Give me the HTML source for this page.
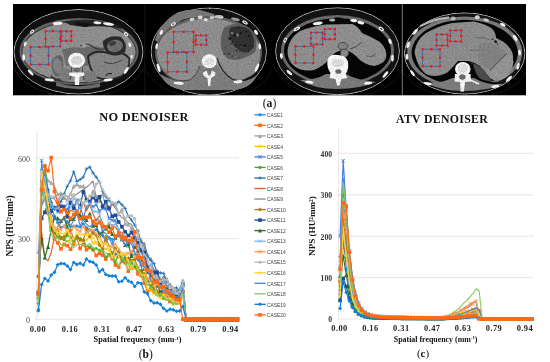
<!DOCTYPE html><html><head><meta charset="utf-8"><title>Figure</title><style>
html,body{margin:0;padding:0;background:#fff}
#fig{position:relative;width:550px;height:362px;overflow:hidden;background:#fff;font-family:"Liberation Serif",serif;color:#111}
.t{position:absolute;white-space:nowrap;line-height:1;transform:translate(-50%,-50%)}
.ttl{font-weight:bold;font-size:12.4px;letter-spacing:.3px;color:#111}
.xl{font-weight:bold;font-size:8.4px;letter-spacing:.45px;color:#222}
.yl{font-size:8px;color:#4a4a4a}
.ylc{font-size:7.6px;color:#333;font-weight:bold}
.ax{font-weight:bold;font-size:8.3px;color:#111}
.ay{font-weight:bold;font-size:9.3px;color:#111;transform:translate(-50%,-50%) rotate(-90deg)}
.cap{font-size:10px;color:#111}
.lg{font-family:"Liberation Sans",sans-serif;font-size:4.9px;color:#3c3c3c;transform:translate(0,-50%)}
sup{font-size:60%;vertical-align:baseline;position:relative;top:-0.45em;line-height:0}

</style></head><body><div id="fig">
<svg width="550" height="362" viewBox="0 0 550 362" style="position:absolute;left:0;top:0">
<defs><marker id="m0" markerUnits="userSpaceOnUse" markerWidth="6" markerHeight="6" viewBox="-3 -3 6 6" refX="0" refY="0" orient="0"><path d="M-2.0 0.0L0.0 -2.0L2.0 0.0L0.0 2.0Z" fill="#1f8fe5"/></marker><marker id="m1" markerUnits="userSpaceOnUse" markerWidth="6" markerHeight="6" viewBox="-3 -3 6 6" refX="0" refY="0" orient="0"><rect x="-1.8" y="-1.8" width="3.6" height="3.6" fill="#ff6a13"/></marker><marker id="m2" markerUnits="userSpaceOnUse" markerWidth="6" markerHeight="6" viewBox="-3 -3 6 6" refX="0" refY="0" orient="0"><path d="M-2.1 2.1L0.0 -2.1L2.1 2.1Z" fill="#a5a5a5"/></marker><marker id="m3" markerUnits="userSpaceOnUse" markerWidth="6" markerHeight="6" viewBox="-3 -3 6 6" refX="0" refY="0" orient="0"><path d="M-1.8 -1.8L1.8 1.8M-1.8 1.8L1.8 -1.8" stroke="#ffc000" stroke-width="0.7" fill="none"/></marker><marker id="m4" markerUnits="userSpaceOnUse" markerWidth="6" markerHeight="6" viewBox="-3 -3 6 6" refX="0" refY="0" orient="0"><path d="M-1.8 -1.8L1.8 1.8M-1.8 1.8L1.8 -1.8M0.0 -1.8L0.0 1.8" stroke="#3f7fe0" stroke-width="0.75" fill="none"/></marker><marker id="m5" markerUnits="userSpaceOnUse" markerWidth="6" markerHeight="6" viewBox="-3 -3 6 6" refX="0" refY="0" orient="0"><circle cx="0.0" cy="0.0" r="1.5" fill="#4aa832"/></marker><marker id="m6" markerUnits="userSpaceOnUse" markerWidth="6" markerHeight="6" viewBox="-3 -3 6 6" refX="0" refY="0" orient="0"><path d="M-1.9 0.0L1.9 0.0M0.0 -1.9L0.0 1.9" stroke="#2473b5" stroke-width="0.75" fill="none"/></marker><marker id="m9" markerUnits="userSpaceOnUse" markerWidth="6" markerHeight="6" viewBox="-3 -3 6 6" refX="0" refY="0" orient="0"><path d="M-2.0 0.0L0.0 -2.0L2.0 0.0L0.0 2.0Z" fill="#b07c00"/></marker><marker id="m10" markerUnits="userSpaceOnUse" markerWidth="6" markerHeight="6" viewBox="-3 -3 6 6" refX="0" refY="0" orient="0"><rect x="-1.8" y="-1.8" width="3.6" height="3.6" fill="#1f4a94"/></marker><marker id="m11" markerUnits="userSpaceOnUse" markerWidth="6" markerHeight="6" viewBox="-3 -3 6 6" refX="0" refY="0" orient="0"><path d="M-2.1 2.1L0.0 -2.1L2.1 2.1Z" fill="#2f6b2a"/></marker><marker id="m12" markerUnits="userSpaceOnUse" markerWidth="6" markerHeight="6" viewBox="-3 -3 6 6" refX="0" refY="0" orient="0"><path d="M-1.8 -1.8L1.8 1.8M-1.8 1.8L1.8 -1.8" stroke="#7db8ea" stroke-width="0.7" fill="none"/></marker><marker id="m13" markerUnits="userSpaceOnUse" markerWidth="6" markerHeight="6" viewBox="-3 -3 6 6" refX="0" refY="0" orient="0"><path d="M-1.8 -1.8L1.8 1.8M-1.8 1.8L1.8 -1.8M0.0 -1.8L0.0 1.8" stroke="#ff9a5c" stroke-width="0.75" fill="none"/></marker><marker id="m14" markerUnits="userSpaceOnUse" markerWidth="6" markerHeight="6" viewBox="-3 -3 6 6" refX="0" refY="0" orient="0"><circle cx="0.0" cy="0.0" r="1.5" fill="#b9b9b9"/></marker><marker id="m15" markerUnits="userSpaceOnUse" markerWidth="6" markerHeight="6" viewBox="-3 -3 6 6" refX="0" refY="0" orient="0"><path d="M-1.9 0.0L1.9 0.0M0.0 -1.9L0.0 1.9" stroke="#ffd23a" stroke-width="0.75" fill="none"/></marker><marker id="m18" markerUnits="userSpaceOnUse" markerWidth="6" markerHeight="6" viewBox="-3 -3 6 6" refX="0" refY="0" orient="0"><path d="M-2.0 0.0L0.0 -2.0L2.0 0.0L0.0 2.0Z" fill="#0f7fdc"/></marker><marker id="m19" markerUnits="userSpaceOnUse" markerWidth="6" markerHeight="6" viewBox="-3 -3 6 6" refX="0" refY="0" orient="0"><rect x="-1.8" y="-1.8" width="3.6" height="3.6" fill="#ff6a10"/></marker></defs>
<defs><filter id="bl" x="-5%" y="-5%" width="110%" height="110%" color-interpolation-filters="sRGB"><feGaussianBlur in="SourceGraphic" stdDeviation="0.55" result="b"/><feTurbulence type="fractalNoise" baseFrequency="0.75" numOctaves="2" seed="4" result="n"/><feColorMatrix in="n" type="matrix" values="1 0 0 0 0 1 0 0 0 0 1 0 0 0 0 0 0 0 0 1" result="ng"/><feComposite in="b" in2="ng" operator="arithmetic" k1="0.42" k2="0.79" k3="0" k4="0" result="c"/><feComposite in="c" in2="b" operator="in"/></filter>
<filter id="bl2" x="-5%" y="-5%" width="110%" height="110%"><feGaussianBlur stdDeviation="0.3"/></filter>
<clipPath id="cp0"><rect x="13" y="4" width="132" height="91"/></clipPath>
<clipPath id="cp1"><rect x="145" y="4" width="128" height="91"/></clipPath>
<clipPath id="cp2"><rect x="273" y="4" width="129" height="91"/></clipPath>
<clipPath id="cp3"><rect x="402" y="4" width="124" height="91"/></clipPath>
</defs>
<rect x="13" y="4" width="513" height="91.3" fill="#000"/>
<g clip-path="url(#cp0)"><g filter="url(#bl)">
<ellipse cx="78.5" cy="51.8" rx="64.6" ry="42.3" fill="#101010" stroke="#cfcfcf" stroke-width="0.9"/>
<path d="M13 66Q24 92 70 97" fill="none" stroke="#666" stroke-width="0.6"/>
<path d="M145 66Q134 92 90 97" fill="none" stroke="#555" stroke-width="0.6"/>
<ellipse cx="79" cy="51.5" rx="59.5" ry="33.5" fill="#626262"/>
<ellipse cx="79" cy="52" rx="57.4" ry="31" fill="#2c2c2c"/>
<ellipse cx="79" cy="52" rx="56.6" ry="30.2" fill="#8d8d8d"/>
<path d="M64 21.5 Q82 18.5 100 21 L118 25 L122 29 L110 27 Q96 25.5 84 27 L70 25Z" fill="#222"/>
<path d="M75 22 L93 24 L86 27 Q80 25 75 25Z" fill="#111"/>
<path d="M62 50 Q70 46 80 48 Q92 44 104 48 L104 56 Q96 58 90 56 L88 66 L66 66 L64 56Z" fill="#6a6a6a"/>
<path d="M51.5 62 Q54.5 54 61 55.5 Q64.5 60 63 70 Q61 77 56 77 Q51 72 51.5 62Z" fill="#626262"/>
<ellipse cx="57.6" cy="66" rx="4.6" ry="8" fill="#808080" transform="rotate(-12 57.6 66)"/>
<path d="M51 75 Q56 80 62 78 L64 81 Q56 83 50 78Z" fill="#383838"/>
<path d="M87 56 Q94 48 108 52 Q122 48 130 58 Q131 70 122 77 Q108 83 96 78 Q88 70 87 56Z" fill="#262626"/>
<path d="M89 57 Q95 50.5 108 54 Q121 50.5 128.5 59 Q129 69 121 75.5 Q108 81 97 76.5 Q90 69 89 57Z" fill="#828282"/>
<path d="M104 62 Q112 66 122 60" fill="none" stroke="#3a3a3a" stroke-width="0.9"/>
<path d="M106 76 Q108 72 112 74" fill="none" stroke="#222" stroke-width="1.2"/>
<path d="M103 41 Q110 34.5 121 37 Q128 43 125 52 Q118 58 108 54 Q102 48 103 41Z" fill="#2a2a2a"/>
<ellipse cx="115" cy="46" rx="8" ry="6.2" fill="#6c6c6c" transform="rotate(-10 115 46)"/>
<ellipse cx="112.5" cy="43.5" rx="3.5" ry="2" fill="#3a3a3a" transform="rotate(-20 112.5 43.5)"/>
<path d="M80 46 Q86 42 92 46 Q96 50 104 49" fill="none" stroke="#3a3a3a" stroke-width="1.1"/>
<ellipse cx="84" cy="45.5" rx="2.4" ry="2.2" fill="#9a9a9a"/>
<ellipse cx="65.5" cy="75" rx="7" ry="6.5" fill="#7a7a7a"/>
<ellipse cx="89.5" cy="76.5" rx="7.5" ry="6" fill="#7a7a7a"/>
<path d="M56 82 Q77 90 100 83 L100 87 Q77 92 56 86Z" fill="#6a6a6a"/>
<path d="M72 66 L70 80 M82 66 L84 80" fill="none" stroke="#333" stroke-width="0.8"/>
<ellipse cx="76.5" cy="60.3" rx="8.6" ry="7.6" fill="#f4f4f4"/>
<ellipse cx="76.5" cy="60.5" rx="5.6" ry="4.4" fill="#d2d2d2"/>
<ellipse cx="76.8" cy="69.8" rx="3.4" ry="2.4" fill="#6a6a6a"/>
<path d="M69.5 72.5 L84 72.5 L84.5 75.5 L79.5 76.5 L79 85 L75 85 L74.5 76.5 L69 75.5Z" fill="#f4f4f4"/>
<ellipse cx="57.7" cy="23.4" rx="5.0" ry="1.6" fill="#f2f2f2" transform="rotate(-5 57.7 23.4)"/>
<ellipse cx="32.1" cy="31.7" rx="2.3" ry="1.7" fill="#f2f2f2" transform="rotate(-40 32.1 31.7)"/>
<ellipse cx="25.2" cy="44" rx="2.5" ry="1.3" fill="#f2f2f2" transform="rotate(-70 25.2 44)"/>
<ellipse cx="23.6" cy="57.4" rx="3.25" ry="1.4" fill="#f2f2f2" transform="rotate(88 23.6 57.4)"/>
<ellipse cx="30.7" cy="72.6" rx="3.75" ry="1.4" fill="#f2f2f2" transform="rotate(48 30.7 72.6)"/>
<ellipse cx="49.4" cy="79.9" rx="4.75" ry="1.4" fill="#f2f2f2" transform="rotate(6 49.4 79.9)"/>
<ellipse cx="97.5" cy="22.8" rx="4.0" ry="1.4" fill="#f2f2f2" transform="rotate(4 97.5 22.8)"/>
<ellipse cx="108.5" cy="24" rx="5.5" ry="1.4" fill="#f2f2f2" transform="rotate(8 108.5 24)"/>
<ellipse cx="126.1" cy="34.2" rx="2.5" ry="1.7" fill="#f2f2f2" transform="rotate(50 126.1 34.2)"/>
<ellipse cx="129.8" cy="44.8" rx="2.5" ry="1.3" fill="#f2f2f2" transform="rotate(75 129.8 44.8)"/>
<ellipse cx="131.6" cy="56.7" rx="2.0" ry="1.1" fill="#f2f2f2" transform="rotate(90 131.6 56.7)"/>
<ellipse cx="126.3" cy="70.5" rx="4.0" ry="1.4" fill="#f2f2f2" transform="rotate(-58 126.3 70.5)"/>
<ellipse cx="108.1" cy="79.9" rx="4.75" ry="1.4" fill="#f2f2f2" transform="rotate(-8 108.1 79.9)"/>
<ellipse cx="32.1" cy="31.7" rx="1" ry="0.7" fill="#333" transform="rotate(-40 32.1 31.7)"/>
<ellipse cx="126.1" cy="34.2" rx="1" ry="0.7" fill="#333" transform="rotate(50 126.1 34.2)"/>
</g>
<rect x="30.6" y="47.0" width="18.0" height="17.5" fill="none" stroke="#2f62a8" stroke-width="0.8"/><rect x="29.5" y="45.9" width="2.2" height="2.2" fill="#ff1010"/><rect x="38.5" y="45.9" width="2.2" height="2.2" fill="#ff1010"/><rect x="47.5" y="45.9" width="2.2" height="2.2" fill="#ff1010"/><rect x="29.5" y="54.6" width="2.2" height="2.2" fill="#ff1010"/><rect x="47.5" y="54.6" width="2.2" height="2.2" fill="#ff1010"/><rect x="29.5" y="63.4" width="2.2" height="2.2" fill="#ff1010"/><rect x="38.5" y="63.4" width="2.2" height="2.2" fill="#ff1010"/><rect x="47.5" y="63.4" width="2.2" height="2.2" fill="#ff1010"/><path d="M38.7 55.8H40.5M39.6 54.9V56.6" stroke="#e05050" stroke-width="0.4"/>
<rect x="45.6" y="31.2" width="14.6" height="15.2" fill="none" stroke="#2f62a8" stroke-width="0.8"/><rect x="44.5" y="30.1" width="2.2" height="2.2" fill="#ff1010"/><rect x="51.8" y="30.1" width="2.2" height="2.2" fill="#ff1010"/><rect x="59.1" y="30.1" width="2.2" height="2.2" fill="#ff1010"/><rect x="44.5" y="37.7" width="2.2" height="2.2" fill="#ff1010"/><rect x="59.1" y="37.7" width="2.2" height="2.2" fill="#ff1010"/><rect x="44.5" y="45.3" width="2.2" height="2.2" fill="#ff1010"/><rect x="51.8" y="45.3" width="2.2" height="2.2" fill="#ff1010"/><rect x="59.1" y="45.3" width="2.2" height="2.2" fill="#ff1010"/><path d="M52.0 38.8H53.8M52.9 37.9V39.7" stroke="#e05050" stroke-width="0.4"/>
<rect x="61.3" y="31.2" width="10.0" height="9.7" fill="none" stroke="#2f62a8" stroke-width="0.8"/><rect x="60.2" y="30.1" width="2.2" height="2.2" fill="#ff1010"/><rect x="65.2" y="30.1" width="2.2" height="2.2" fill="#ff1010"/><rect x="70.2" y="30.1" width="2.2" height="2.2" fill="#ff1010"/><rect x="60.2" y="34.9" width="2.2" height="2.2" fill="#ff1010"/><rect x="70.2" y="34.9" width="2.2" height="2.2" fill="#ff1010"/><rect x="60.2" y="39.8" width="2.2" height="2.2" fill="#ff1010"/><rect x="65.2" y="39.8" width="2.2" height="2.2" fill="#ff1010"/><rect x="70.2" y="39.8" width="2.2" height="2.2" fill="#ff1010"/><path d="M65.4 36.0H67.2M66.3 35.1V36.9" stroke="#e05050" stroke-width="0.4"/>
</g>
<g clip-path="url(#cp1)"><g filter="url(#bl)">
<ellipse cx="208.8" cy="51.5" rx="57.8" ry="43.6" fill="#121212" stroke="#c8c8c8" stroke-width="0.9"/>
<path d="M146 70Q158 94 200 98" fill="none" stroke="#555" stroke-width="0.6"/>
<path d="M272 70Q262 94 220 98" fill="none" stroke="#555" stroke-width="0.6"/>
<path d="M155 40 Q160 22 178 12 Q190 8.5 200 10 L214 14 L216 18 Q196 15 182 20 Q166 28 160 44Z" fill="#777"/>
<ellipse cx="208.5" cy="52.5" rx="53.5" ry="36.5" fill="#5e5e5e"/>
<ellipse cx="208.5" cy="53" rx="51.5" ry="34.5" fill="#8d8d8d"/>
<path d="M160 74 Q176 83 190 80 Q198 74 200 66 L218 66 Q222 76 238 81 Q250 82 258 74 Q252 88 236 90 L182 90 Q166 88 160 74Z" fill="#7c7c7c"/>
<path d="M160 74 Q176 83 190 80 Q198 74 200 66" fill="none" stroke="#3a3a3a" stroke-width="0.8"/>
<path d="M224 28 Q232 22 244 25 Q253 28 256 38 Q258 50 252 58 Q244 66 234 63 Q224 58 221 48 Q220 36 224 28Z" fill="#5c5c5c"/>
<path d="M230 28 Q240 24 249 29 Q255 36 254 46 Q250 54 242 52 Q234 48 231 40 Q228 34 230 28Z" fill="#303030"/>
<ellipse cx="244.6" cy="45.5" rx="1.3" ry="1.1" fill="#0c0c0c"/>
<ellipse cx="229.7" cy="38.6" rx="1.5" ry="1.2" fill="#111"/>
<ellipse cx="240.7" cy="33.2" rx="1.1" ry="0.9" fill="#0c0c0c"/>
<ellipse cx="235.2" cy="45.3" rx="1.0" ry="0.8" fill="#151515"/>
<ellipse cx="251.9" cy="46.1" rx="0.8" ry="0.7" fill="#111"/>
<ellipse cx="232.5" cy="42.4" rx="0.8" ry="0.6" fill="#111"/>
<ellipse cx="248.3" cy="51.0" rx="0.8" ry="0.7" fill="#151515"/>
<ellipse cx="236.2" cy="51.0" rx="1.1" ry="0.9" fill="#151515"/>
<ellipse cx="238.6" cy="27.5" rx="1.0" ry="0.8" fill="#151515"/>
<ellipse cx="235.6" cy="35.3" rx="1.4" ry="1.1" fill="#0c0c0c"/>
<ellipse cx="237.4" cy="34.7" rx="1.4" ry="1.1" fill="#7a7a7a"/>
<ellipse cx="246.4" cy="31.6" rx="1.1" ry="0.9" fill="#151515"/>
<ellipse cx="248.7" cy="36.2" rx="1.2" ry="0.9" fill="#111"/>
<ellipse cx="240.3" cy="44.7" rx="1.2" ry="1.0" fill="#151515"/>
<ellipse cx="232.0" cy="33.2" rx="1.4" ry="1.1" fill="#7a7a7a"/>
<ellipse cx="237.6" cy="35.9" rx="1.1" ry="0.9" fill="#7a7a7a"/>
<ellipse cx="231.7" cy="45.7" rx="1.3" ry="1.1" fill="#6a6a6a"/>
<ellipse cx="224.6" cy="47.8" rx="1.0" ry="0.8" fill="#444"/>
<ellipse cx="231.5" cy="61.3" rx="0.9" ry="0.7" fill="#777"/>
<ellipse cx="241.2" cy="47.0" rx="1.1" ry="0.9" fill="#444"/>
<ellipse cx="242.2" cy="47.1" rx="0.9" ry="0.7" fill="#3a3a3a"/>
<ellipse cx="224.3" cy="53.8" rx="1.2" ry="0.9" fill="#3a3a3a"/>
<ellipse cx="228.6" cy="53.7" rx="1.1" ry="0.9" fill="#333"/>
<ellipse cx="240.2" cy="43.3" rx="1.2" ry="0.9" fill="#3a3a3a"/>
<ellipse cx="244.4" cy="47.7" rx="0.7" ry="0.6" fill="#444"/>
<ellipse cx="239.7" cy="58.1" rx="0.7" ry="0.5" fill="#333"/>
<ellipse cx="233.8" cy="43.2" rx="1.2" ry="0.9" fill="#444"/>
<ellipse cx="235.7" cy="56.8" rx="0.9" ry="0.7" fill="#777"/>
<ellipse cx="235.2" cy="60.7" rx="0.7" ry="0.5" fill="#444"/>
<ellipse cx="239.6" cy="51.5" rx="0.8" ry="0.6" fill="#3a3a3a"/>
<ellipse cx="235.8" cy="51.8" rx="0.9" ry="0.7" fill="#777"/>
<ellipse cx="232.0" cy="53.5" rx="0.6" ry="0.5" fill="#777"/>
<ellipse cx="232.2" cy="56.2" rx="0.8" ry="0.6" fill="#333"/>
<ellipse cx="231.5" cy="44.1" rx="1.1" ry="0.9" fill="#333"/>
<path d="M219 60 Q222 72 232 78 Q246 82 256 72 Q262 60 258 50 Q248 58 236 60 Q226 58 219 60Z" fill="#8a8a8a"/>
<path d="M217 58 Q221 72 232 79 Q240 82 246 80" fill="none" stroke="#222" stroke-width="1.1"/>
<ellipse cx="209.3" cy="61.3" rx="7.4" ry="7" fill="#f4f4f4"/>
<ellipse cx="209.3" cy="61.5" rx="4.6" ry="4" fill="#dcdcdc"/>
<ellipse cx="209.2" cy="71" rx="3.2" ry="2.4" fill="#707070"/>
<path d="M203 72.5 L207 70.5 L207.5 74 L209.2 76 L211 74 L211.5 70.5 L215.5 72.5 L215 75.5 L211 78 L210.3 86 L208.2 86 L207.5 78 L203.5 75.5Z" fill="#f4f4f4"/>
<ellipse cx="173.3" cy="24.1" rx="2.75" ry="1.7" fill="#f2f2f2" transform="rotate(-30 173.3 24.1)"/>
<ellipse cx="161.3" cy="32.4" rx="2.5" ry="1.5" fill="#f2f2f2" transform="rotate(-60 161.3 32.4)"/>
<ellipse cx="156.7" cy="46.2" rx="3.0" ry="1.3" fill="#f2f2f2" transform="rotate(-80 156.7 46.2)"/>
<ellipse cx="158.6" cy="67.7" rx="4.5" ry="1.4" fill="#f2f2f2" transform="rotate(72 158.6 67.7)"/>
<ellipse cx="178.8" cy="83.2" rx="5.0" ry="1.5" fill="#f2f2f2" transform="rotate(4 178.8 83.2)"/>
<ellipse cx="245" cy="22.4" rx="3.0" ry="1.7" fill="#f2f2f2" transform="rotate(30 245 22.4)"/>
<ellipse cx="256.1" cy="32.4" rx="2.75" ry="1.5" fill="#f2f2f2" transform="rotate(58 256.1 32.4)"/>
<ellipse cx="259.8" cy="46.2" rx="3.0" ry="1.3" fill="#f2f2f2" transform="rotate(80 259.8 46.2)"/>
<ellipse cx="257" cy="67.7" rx="4.5" ry="1.4" fill="#f2f2f2" transform="rotate(-65 257 67.7)"/>
<ellipse cx="238.1" cy="81.7" rx="4.5" ry="1.5" fill="#f2f2f2" transform="rotate(-6 238.1 81.7)"/>
<ellipse cx="173.3" cy="24.1" rx="1.2" ry="0.7" fill="#444" transform="rotate(-30 173.3 24.1)"/>
<ellipse cx="245" cy="22.4" rx="1.4" ry="0.7" fill="#444" transform="rotate(30 245 22.4)"/>
<ellipse cx="192" cy="19.3" rx="2.5" ry="1.7" fill="#cfcfcf" transform="rotate(-15 192 19.3)"/>
<ellipse cx="200.2" cy="17.4" rx="2.5" ry="1.8" fill="#d8d8d8" transform="rotate(-5 200.2 17.4)"/>
<ellipse cx="205.8" cy="19.7" rx="2.0" ry="1.5" fill="#e8e8e8" transform="rotate(10 205.8 19.7)"/>
<ellipse cx="212" cy="17.5" rx="2.5" ry="1.5" fill="#c8c8c8"/>
<ellipse cx="219" cy="16.9" rx="4.5" ry="1.8" fill="#c4c4c4" transform="rotate(4 219 16.9)"/>
<ellipse cx="235.4" cy="19.3" rx="4.5" ry="1.5" fill="#9a9a9a" transform="rotate(12 235.4 19.3)"/>
<ellipse cx="209.8" cy="8.2" rx="0.8" ry="0.8" fill="#ddd"/>
</g>
<rect x="173.7" y="31.8" width="19.9" height="20.1" fill="none" stroke="#2f62a8" stroke-width="0.8"/><rect x="172.6" y="30.7" width="2.2" height="2.2" fill="#ff1010"/><rect x="182.5" y="30.7" width="2.2" height="2.2" fill="#ff1010"/><rect x="192.5" y="30.7" width="2.2" height="2.2" fill="#ff1010"/><rect x="172.6" y="40.8" width="2.2" height="2.2" fill="#ff1010"/><rect x="192.5" y="40.8" width="2.2" height="2.2" fill="#ff1010"/><rect x="172.6" y="50.8" width="2.2" height="2.2" fill="#ff1010"/><rect x="182.5" y="50.8" width="2.2" height="2.2" fill="#ff1010"/><rect x="192.5" y="50.8" width="2.2" height="2.2" fill="#ff1010"/><path d="M182.7 41.9H184.5M183.6 41.0V42.8" stroke="#e05050" stroke-width="0.4"/>
<rect x="195.8" y="35.4" width="10.5" height="9.4" fill="none" stroke="#2f62a8" stroke-width="0.8"/><rect x="194.7" y="34.3" width="2.2" height="2.2" fill="#ff1010"/><rect x="200.0" y="34.3" width="2.2" height="2.2" fill="#ff1010"/><rect x="205.2" y="34.3" width="2.2" height="2.2" fill="#ff1010"/><rect x="194.7" y="39.0" width="2.2" height="2.2" fill="#ff1010"/><rect x="205.2" y="39.0" width="2.2" height="2.2" fill="#ff1010"/><rect x="194.7" y="43.7" width="2.2" height="2.2" fill="#ff1010"/><rect x="200.0" y="43.7" width="2.2" height="2.2" fill="#ff1010"/><rect x="205.2" y="43.7" width="2.2" height="2.2" fill="#ff1010"/><path d="M200.2 40.1H202.0M201.1 39.2V41.0" stroke="#e05050" stroke-width="0.4"/>
<rect x="167.6" y="52.5" width="19.3" height="19.3" fill="none" stroke="#2f62a8" stroke-width="0.8"/><rect x="166.5" y="51.4" width="2.2" height="2.2" fill="#ff1010"/><rect x="176.2" y="51.4" width="2.2" height="2.2" fill="#ff1010"/><rect x="185.8" y="51.4" width="2.2" height="2.2" fill="#ff1010"/><rect x="166.5" y="61.0" width="2.2" height="2.2" fill="#ff1010"/><rect x="185.8" y="61.0" width="2.2" height="2.2" fill="#ff1010"/><rect x="166.5" y="70.7" width="2.2" height="2.2" fill="#ff1010"/><rect x="176.2" y="70.7" width="2.2" height="2.2" fill="#ff1010"/><rect x="185.8" y="70.7" width="2.2" height="2.2" fill="#ff1010"/><path d="M176.3 62.1H178.2M177.2 61.2V63.0" stroke="#e05050" stroke-width="0.4"/>
</g>
<g clip-path="url(#cp2)"><g filter="url(#bl)">
<ellipse cx="337.5" cy="51.2" rx="62" ry="43.5" fill="#121212" stroke="#c8c8c8" stroke-width="0.9"/>
<path d="M273 64Q284 92 330 98" fill="none" stroke="#555" stroke-width="0.6"/>
<path d="M402 70Q390 94 346 98" fill="none" stroke="#555" stroke-width="0.6"/>
<ellipse cx="337.5" cy="50.5" rx="56.5" ry="35.5" fill="#686868"/>
<ellipse cx="337.5" cy="50.8" rx="53.5" ry="32.5" fill="#050505"/>
<path d="M300 80 Q316 80 326 74 L346 74 Q356 80 376 82 Q360 89 337 89 Q314 89 300 80Z" fill="#787878"/>
<path d="M287.5 50 Q289 38 300 31 Q312 26 326 24.5 L352 24 Q358 26 362 33 Q372 37 380 42 Q388 50 386 58 Q384 64 374 66 Q362 64 356 56 Q350 50 342 50 Q334 52 330 58 Q324 66 314 70 Q302 72 294 66 Q287 60 287.5 50Z" fill="#8d8d8d"/>
<path d="M334 18 Q340 16 346 20 L352 24 L340 24Z" fill="#0a0a0a"/>
<path d="M362 42 Q356 48 350 49" fill="none" stroke="#333" stroke-width="0.8"/>
<path d="M366 56 Q372 58 376 54" fill="none" stroke="#444" stroke-width="0.7"/>
<ellipse cx="344.5" cy="53" rx="4.2" ry="4.2" fill="#868686" stroke="#333" stroke-width="0.7"/>
<ellipse cx="343" cy="46" rx="5" ry="3.6" fill="#808080" stroke="#333" stroke-width="0.7"/>
<path d="M327.5 60 Q329.5 54 337.5 55 Q346.5 55 348 62 Q349 70 345.5 74 L347.5 78 L341.5 79 L339.5 85.5 L337 85.5 L335.5 79 L329.5 78 L330.5 73 Q326.5 68 327.5 60Z" fill="#f4f4f4"/>
<ellipse cx="338" cy="63" rx="6" ry="4.6" fill="#dadada"/>
<ellipse cx="338.3" cy="71.5" rx="3" ry="2.3" fill="#666"/>
<ellipse cx="285.2" cy="40" rx="2.5" ry="1.6" fill="#f2f2f2" transform="rotate(-60 285.2 40)"/>
<ellipse cx="296.9" cy="28.9" rx="3.5" ry="1.5" fill="#f2f2f2" transform="rotate(-30 296.9 28.9)"/>
<ellipse cx="317.7" cy="23.4" rx="5.0" ry="1.6" fill="#f2f2f2" transform="rotate(-8 317.7 23.4)"/>
<ellipse cx="281.4" cy="56" rx="3.0" ry="1.4" fill="#f2f2f2" transform="rotate(85 281.4 56)"/>
<ellipse cx="289.3" cy="72.6" rx="3.5" ry="1.4" fill="#f2f2f2" transform="rotate(45 289.3 72.6)"/>
<ellipse cx="309.4" cy="82.2" rx="4.0" ry="1.4" fill="#f2f2f2" transform="rotate(8 309.4 82.2)"/>
<ellipse cx="353.6" cy="20.6" rx="3.5" ry="1.6" fill="#f2f2f2" transform="rotate(8 353.6 20.6)"/>
<ellipse cx="360.8" cy="22.7" rx="3.5" ry="1.6" fill="#f2f2f2" transform="rotate(14 360.8 22.7)"/>
<ellipse cx="381.3" cy="28.9" rx="3.0" ry="1.8" fill="#f2f2f2" transform="rotate(35 381.3 28.9)"/>
<ellipse cx="390" cy="41.4" rx="2.75" ry="1.5" fill="#f2f2f2" transform="rotate(68 390 41.4)"/>
<ellipse cx="392.5" cy="58" rx="3.5" ry="1.4" fill="#f2f2f2" transform="rotate(90 392.5 58)"/>
<ellipse cx="385.4" cy="74.6" rx="4.0" ry="1.4" fill="#f2f2f2" transform="rotate(-50 385.4 74.6)"/>
<ellipse cx="368.1" cy="83.2" rx="4.0" ry="1.4" fill="#f2f2f2" transform="rotate(-8 368.1 83.2)"/>
<ellipse cx="285.2" cy="40" rx="1.2" ry="0.7" fill="#444" transform="rotate(-60 285.2 40)"/>
<ellipse cx="296.9" cy="28.9" rx="1.6" ry="0.6" fill="#555" transform="rotate(-30 296.9 28.9)"/>
<ellipse cx="381.3" cy="28.9" rx="1.4" ry="0.8" fill="#444" transform="rotate(35 381.3 28.9)"/>
<ellipse cx="332.2" cy="20" rx="3.0" ry="1.5" fill="#b0b0b0"/>
</g>
<rect x="295.4" y="46.4" width="18.0" height="16.6" fill="none" stroke="#2f62a8" stroke-width="0.8"/><rect x="294.3" y="45.3" width="2.2" height="2.2" fill="#ff1010"/><rect x="303.3" y="45.3" width="2.2" height="2.2" fill="#ff1010"/><rect x="312.3" y="45.3" width="2.2" height="2.2" fill="#ff1010"/><rect x="294.3" y="53.6" width="2.2" height="2.2" fill="#ff1010"/><rect x="312.3" y="53.6" width="2.2" height="2.2" fill="#ff1010"/><rect x="294.3" y="61.9" width="2.2" height="2.2" fill="#ff1010"/><rect x="303.3" y="61.9" width="2.2" height="2.2" fill="#ff1010"/><rect x="312.3" y="61.9" width="2.2" height="2.2" fill="#ff1010"/><path d="M303.5 54.7H305.3M304.4 53.8V55.6" stroke="#e05050" stroke-width="0.4"/>
<rect x="310.9" y="32.6" width="11.6" height="11.6" fill="none" stroke="#2f62a8" stroke-width="0.8"/><rect x="309.8" y="31.5" width="2.2" height="2.2" fill="#ff1010"/><rect x="315.6" y="31.5" width="2.2" height="2.2" fill="#ff1010"/><rect x="321.4" y="31.5" width="2.2" height="2.2" fill="#ff1010"/><rect x="309.8" y="37.3" width="2.2" height="2.2" fill="#ff1010"/><rect x="321.4" y="37.3" width="2.2" height="2.2" fill="#ff1010"/><rect x="309.8" y="43.1" width="2.2" height="2.2" fill="#ff1010"/><rect x="315.6" y="43.1" width="2.2" height="2.2" fill="#ff1010"/><rect x="321.4" y="43.1" width="2.2" height="2.2" fill="#ff1010"/><path d="M315.8 38.4H317.6M316.7 37.5V39.3" stroke="#e05050" stroke-width="0.4"/>
<rect x="324.7" y="29.0" width="10.2" height="10.2" fill="none" stroke="#2f62a8" stroke-width="0.8"/><rect x="323.6" y="27.9" width="2.2" height="2.2" fill="#ff1010"/><rect x="328.7" y="27.9" width="2.2" height="2.2" fill="#ff1010"/><rect x="333.8" y="27.9" width="2.2" height="2.2" fill="#ff1010"/><rect x="323.6" y="33.0" width="2.2" height="2.2" fill="#ff1010"/><rect x="333.8" y="33.0" width="2.2" height="2.2" fill="#ff1010"/><rect x="323.6" y="38.1" width="2.2" height="2.2" fill="#ff1010"/><rect x="328.7" y="38.1" width="2.2" height="2.2" fill="#ff1010"/><rect x="333.8" y="38.1" width="2.2" height="2.2" fill="#ff1010"/><path d="M328.9 34.1H330.7M329.8 33.2V35.0" stroke="#e05050" stroke-width="0.4"/>
</g>
<rect x="401.8" y="4" width="0.9" height="91" fill="#8a8a8a"/>
<g clip-path="url(#cp3)"><g filter="url(#bl)">
<ellipse cx="464.7" cy="53.5" rx="60.3" ry="40.7" fill="#141414" stroke="#cfcfcf" stroke-width="0.9"/>
<path d="M403 72Q416 94 458 98" fill="none" stroke="#555" stroke-width="0.6"/>
<path d="M526 72Q516 94 472 98" fill="none" stroke="#555" stroke-width="0.6"/>
<ellipse cx="464.7" cy="52.5" rx="57.5" ry="36" fill="#787878"/>
<ellipse cx="464.7" cy="52.8" rx="53.2" ry="33" fill="#050505"/>
<path d="M424 82 Q440 84 452 78 L474 78 Q484 84 504 84 Q488 91 464 91 Q440 91 424 82Z" fill="#7a7a7a"/>
<path d="M414.5 52 Q416 40 426 33 Q438 26 452 23 L474 21.5 Q486 24 492 28.5 Q496 33 496 38 Q504 41 508 46 Q514 52 513 60 Q512 70 506 76 Q498 82 490 78 Q484 72 480 66 Q474 62 468 61 L458 61 Q454 66 448 72 Q438 78 428 75 Q418 70 414.5 52Z" fill="#8b8b8b"/>
<path d="M476 38 Q484 36 490 40 M470 50 Q480 52 488 48" fill="none" stroke="#5a5a5a" stroke-width="0.8"/>
<ellipse cx="495.6" cy="41.6" rx="1.7" ry="1.2" fill="#1a1a1a" transform="rotate(30 495.6 41.6)"/>
<ellipse cx="492.5" cy="39.2" rx="1" ry="0.8" fill="#2a2a2a"/>
<ellipse cx="497.5" cy="44" rx="0.9" ry="0.7" fill="#333"/>
<path d="M478 44 Q488 40 498 46 Q506 52 506 54 Q498 62 490 70 Q482 66 478 58Z" fill="#808080"/>
<path d="M471 63 Q478 64 484 70 Q488 76 492 81 Q484 82 477 78 Q473 72 471 63Z" fill="#4a4a4a"/>
<path d="M472 64 Q474 74 479 79 Q488 84 498 83" fill="none" stroke="#050505" stroke-width="2"/>
<path d="M490 70.5 Q498 62 507 53.5 Q513 56 513.5 62 Q512 72 506 77.5 Q498 82.5 491 79 Q488 75 490 70.5Z" fill="#929292"/>
<path d="M490 70.5 Q498 62 507 53.5" fill="none" stroke="#3a3a3a" stroke-width="0.8"/>
<ellipse cx="462.8" cy="69" rx="7.8" ry="7" fill="#f4f4f4"/>
<ellipse cx="462.8" cy="68.5" rx="5" ry="4.2" fill="#dadada"/>
<path d="M455 74 L470.5 74 L471 81.5 L465 82 L464 91.5 L460.5 91.5 L460 82 L454.5 81.5Z" fill="#f4f4f4"/>
<ellipse cx="462.4" cy="77" rx="3.3" ry="2.8" fill="#686868"/>
<path d="M470 80 L479 84" stroke="#f0f0f0" stroke-width="1.6" fill="none"/>
<ellipse cx="408.3" cy="44.8" rx="3.5" ry="1.5" fill="#f2f2f2" transform="rotate(-72 408.3 44.8)"/>
<ellipse cx="415.2" cy="31.7" rx="3.5" ry="1.5" fill="#f2f2f2" transform="rotate(-50 415.2 31.7)"/>
<ellipse cx="406.9" cy="56.7" rx="3.0" ry="1.4" fill="#f2f2f2" transform="rotate(88 406.9 56.7)"/>
<ellipse cx="412.4" cy="73.2" rx="3.5" ry="1.4" fill="#f2f2f2" transform="rotate(55 412.4 73.2)"/>
<ellipse cx="427.6" cy="83.6" rx="4.0" ry="1.4" fill="#f2f2f2" transform="rotate(12 427.6 83.6)"/>
<ellipse cx="502.8" cy="24.8" rx="3.0" ry="1.5" fill="#f2f2f2" transform="rotate(30 502.8 24.8)"/>
<ellipse cx="515.2" cy="37.9" rx="3.5" ry="1.6" fill="#f2f2f2" transform="rotate(58 515.2 37.9)"/>
<ellipse cx="519.6" cy="52.5" rx="3.0" ry="1.4" fill="#f2f2f2" transform="rotate(86 519.6 52.5)"/>
<ellipse cx="518" cy="66.3" rx="3.5" ry="1.4" fill="#f2f2f2" transform="rotate(-75 518 66.3)"/>
<ellipse cx="509" cy="78.8" rx="4.0" ry="1.4" fill="#f2f2f2" transform="rotate(-45 509 78.8)"/>
<ellipse cx="495.2" cy="86.4" rx="4.0" ry="1.4" fill="#f2f2f2" transform="rotate(-10 495.2 86.4)"/>
<path d="M420.7 25.8 Q434 19 448.3 17.6" fill="none" stroke="#b4b4b4" stroke-width="2.2" stroke-linecap="round"/>
<ellipse cx="453.2" cy="18.6" rx="2.5" ry="2.0" fill="#b8b8b8"/>
<ellipse cx="477.3" cy="17.2" rx="2.5" ry="2.0" fill="#d0d0d0"/>
<ellipse cx="486.2" cy="20" rx="3.0" ry="1.5" fill="#c8c8c8" transform="rotate(15 486.2 20)"/>
</g>
<rect x="422.6" y="49.2" width="17.4" height="17.1" fill="none" stroke="#2f62a8" stroke-width="0.8"/><rect x="421.5" y="48.1" width="2.2" height="2.2" fill="#ff1010"/><rect x="430.2" y="48.1" width="2.2" height="2.2" fill="#ff1010"/><rect x="438.9" y="48.1" width="2.2" height="2.2" fill="#ff1010"/><rect x="421.5" y="56.6" width="2.2" height="2.2" fill="#ff1010"/><rect x="438.9" y="56.6" width="2.2" height="2.2" fill="#ff1010"/><rect x="421.5" y="65.2" width="2.2" height="2.2" fill="#ff1010"/><rect x="430.2" y="65.2" width="2.2" height="2.2" fill="#ff1010"/><rect x="438.9" y="65.2" width="2.2" height="2.2" fill="#ff1010"/><path d="M430.4 57.8H432.2M431.3 56.9V58.6" stroke="#e05050" stroke-width="0.4"/>
<rect x="436.4" y="34.5" width="11.1" height="11.1" fill="none" stroke="#2f62a8" stroke-width="0.8"/><rect x="435.3" y="33.4" width="2.2" height="2.2" fill="#ff1010"/><rect x="440.8" y="33.4" width="2.2" height="2.2" fill="#ff1010"/><rect x="446.4" y="33.4" width="2.2" height="2.2" fill="#ff1010"/><rect x="435.3" y="38.9" width="2.2" height="2.2" fill="#ff1010"/><rect x="446.4" y="38.9" width="2.2" height="2.2" fill="#ff1010"/><rect x="435.3" y="44.5" width="2.2" height="2.2" fill="#ff1010"/><rect x="440.8" y="44.5" width="2.2" height="2.2" fill="#ff1010"/><rect x="446.4" y="44.5" width="2.2" height="2.2" fill="#ff1010"/><path d="M441.1 40.0H442.8M441.9 39.1V40.9" stroke="#e05050" stroke-width="0.4"/>
<rect x="450.2" y="30.4" width="11.1" height="11.0" fill="none" stroke="#2f62a8" stroke-width="0.8"/><rect x="449.1" y="29.3" width="2.2" height="2.2" fill="#ff1010"/><rect x="454.6" y="29.3" width="2.2" height="2.2" fill="#ff1010"/><rect x="460.2" y="29.3" width="2.2" height="2.2" fill="#ff1010"/><rect x="449.1" y="34.8" width="2.2" height="2.2" fill="#ff1010"/><rect x="460.2" y="34.8" width="2.2" height="2.2" fill="#ff1010"/><rect x="449.1" y="40.3" width="2.2" height="2.2" fill="#ff1010"/><rect x="454.6" y="40.3" width="2.2" height="2.2" fill="#ff1010"/><rect x="460.2" y="40.3" width="2.2" height="2.2" fill="#ff1010"/><path d="M454.9 35.9H456.6M455.8 35.0V36.8" stroke="#e05050" stroke-width="0.4"/>
</g>
<rect x="144.6" y="4" width="0.6" height="91" fill="#262626"/>
<g shape-rendering="auto">
<path d="M36.8 131V319.3M35 157.9H239M35 238.6H239M35 319.3H239" stroke="#e0e0e0" stroke-width="0.8" fill="none"/>
<polyline points="38.4,303.6 41.6,170.0 44.8,182.1 48.0,198.9 51.2,205.9 54.5,216.3 57.7,222.7 60.9,227.4 64.1,226.4 67.3,222.1 70.5,226.6 73.7,226.3 76.9,226.1 80.1,227.1 83.3,223.9 86.5,227.7 89.8,230.0 93.0,232.3 96.2,229.7 99.4,233.0 102.6,235.6 105.8,241.6 109.0,237.8 112.2,239.4 115.4,254.4 118.7,251.1 121.9,261.5 125.1,255.2 128.3,262.8 131.5,255.4 134.7,255.1 137.9,259.4 141.1,265.3 144.3,278.9 147.5,279.9 150.8,287.0 154.0,282.1 157.2,291.6 160.4,292.1 163.6,297.8 166.8,297.1 170.0,295.4 173.2,301.0 176.4,298.2 179.6,298.4 182.8,293.1 186.1,319.3 189.3,319.3 192.5,319.3 195.7,319.3 198.9,319.3 202.1,319.3 205.3,319.3 208.5,319.3 211.7,319.3 215.0,319.3 218.2,319.3 221.4,319.3 224.6,319.3 227.8,319.3 231.0,319.3 234.2,319.3 237.4,319.3" fill="none" stroke="#1f8fe5" stroke-width="1.15" stroke-linejoin="round" marker-start="url(#m0)" marker-mid="url(#m0)" marker-end="url(#m0)"/>
<polyline points="38.4,294.5 41.6,201.8 44.8,196.2 48.0,213.2 51.2,228.0 54.5,238.8 57.7,242.8 60.9,248.8 64.1,244.5 67.3,245.6 70.5,249.2 73.7,243.9 76.9,238.0 80.1,248.5 83.3,244.4 86.5,249.7 89.8,247.4 93.0,249.4 96.2,255.5 99.4,253.5 102.6,255.1 105.8,259.1 109.0,255.2 112.2,258.7 115.4,265.0 118.7,267.0 121.9,260.7 125.1,262.7 128.3,271.2 131.5,268.2 134.7,265.6 137.9,273.9 141.1,275.5 144.3,283.2 147.5,291.1 150.8,289.6 154.0,291.9 157.2,293.6 160.4,295.8 163.6,293.9 166.8,299.0 170.0,301.5 173.2,299.9 176.4,300.5 179.6,302.6 182.8,292.5 186.1,319.3 189.3,319.3 192.5,319.3 195.7,319.3 198.9,319.3 202.1,319.3 205.3,319.3 208.5,319.3 211.7,319.3 215.0,319.3 218.2,319.3 221.4,319.3 224.6,319.3 227.8,319.3 231.0,319.3 234.2,319.3 237.4,319.3" fill="none" stroke="#ff6a13" stroke-width="1.15" stroke-linejoin="round" marker-start="url(#m1)" marker-mid="url(#m1)" marker-end="url(#m1)"/>
<polyline points="38.4,251.6 41.6,186.3 44.8,172.6 48.0,180.3 51.2,182.7 54.5,187.4 57.7,194.1 60.9,193.0 64.1,197.9 67.3,199.5 70.5,194.2 73.7,186.3 76.9,184.3 80.1,186.2 83.3,185.9 86.5,198.0 89.8,200.8 93.0,191.1 96.2,196.4 99.4,200.9 102.6,194.0 105.8,207.7 109.0,207.5 112.2,203.2 115.4,203.1 118.7,214.2 121.9,209.1 125.1,223.6 128.3,224.4 131.5,228.5 134.7,240.0 137.9,238.4 141.1,239.7 144.3,248.9 147.5,257.4 150.8,258.6 154.0,271.3 157.2,277.7 160.4,278.5 163.6,282.4 166.8,278.7 170.0,285.3 173.2,290.6 176.4,292.6 179.6,288.8 182.8,280.7 186.1,319.3 189.3,319.3 192.5,319.3 195.7,319.3 198.9,319.3 202.1,319.3 205.3,319.3 208.5,319.3 211.7,319.3 215.0,319.3 218.2,319.3 221.4,319.3 224.6,319.3 227.8,319.3 231.0,319.3 234.2,319.3 237.4,319.3" fill="none" stroke="#a5a5a5" stroke-width="1.15" stroke-linejoin="round" marker-start="url(#m2)" marker-mid="url(#m2)" marker-end="url(#m2)"/>
<polyline points="38.4,299.0 41.6,172.3 44.8,186.7 48.0,203.5 51.2,221.6 54.5,233.0 57.7,234.6 60.9,237.8 64.1,240.1 67.3,241.4 70.5,240.2 73.7,242.7 76.9,237.9 80.1,240.9 83.3,240.5 86.5,240.3 89.8,236.3 93.0,243.3 96.2,242.5 99.4,243.5 102.6,249.9 105.8,248.5 109.0,250.9 112.2,253.2 115.4,256.3 118.7,257.8 121.9,256.5 125.1,254.0 128.3,265.8 131.5,265.4 134.7,268.6 137.9,268.8 141.1,273.6 144.3,276.3 147.5,290.1 150.8,289.6 154.0,293.9 157.2,293.6 160.4,296.4 163.6,298.0 166.8,297.3 170.0,296.3 173.2,304.6 176.4,301.8 179.6,301.6 182.8,294.6 186.1,319.3 189.3,319.3 192.5,319.3 195.7,319.3 198.9,319.3 202.1,319.3 205.3,319.3 208.5,319.3 211.7,319.3 215.0,319.3 218.2,319.3 221.4,319.3 224.6,319.3 227.8,319.3 231.0,319.3 234.2,319.3 237.4,319.3" fill="none" stroke="#ffc000" stroke-width="1.15" stroke-linejoin="round" marker-start="url(#m3)" marker-mid="url(#m3)" marker-end="url(#m3)"/>
<polyline points="38.4,290.6 41.6,160.8 44.8,194.8 48.0,200.8 51.2,203.8 54.5,207.3 57.7,211.7 60.9,212.0 64.1,207.6 67.3,209.7 70.5,201.7 73.7,205.1 76.9,211.5 80.1,206.4 83.3,216.9 86.5,208.3 89.8,203.8 93.0,206.7 96.2,204.6 99.4,211.3 102.6,208.2 105.8,208.9 109.0,218.5 112.2,220.3 115.4,220.7 118.7,230.4 121.9,236.3 125.1,239.2 128.3,246.1 131.5,240.0 134.7,247.5 137.9,246.3 141.1,248.5 144.3,256.1 147.5,267.3 150.8,270.2 154.0,276.7 157.2,278.4 160.4,284.2 163.6,278.3 166.8,286.2 170.0,291.7 173.2,294.0 176.4,292.4 179.6,295.3 182.8,285.0 186.1,319.3 189.3,319.3 192.5,319.3 195.7,319.3 198.9,319.3 202.1,319.3 205.3,319.3 208.5,319.3 211.7,319.3 215.0,319.3 218.2,319.3 221.4,319.3 224.6,319.3 227.8,319.3 231.0,319.3 234.2,319.3 237.4,319.3" fill="none" stroke="#3f7fe0" stroke-width="1.15" stroke-linejoin="round" marker-start="url(#m4)" marker-mid="url(#m4)" marker-end="url(#m4)"/>
<polyline points="38.4,309.4 41.6,190.5 44.8,165.2 48.0,190.8 51.2,222.7 54.5,233.1 57.7,237.1 60.9,237.3 64.1,239.8 67.3,235.4 70.5,237.5 73.7,241.0 76.9,237.8 80.1,238.4 83.3,240.3 86.5,246.3 89.8,247.1 93.0,249.9 96.2,248.5 99.4,250.3 102.6,250.9 105.8,257.1 109.0,254.6 112.2,253.2 115.4,262.0 118.7,253.7 121.9,259.8 125.1,261.0 128.3,262.1 131.5,262.9 134.7,266.7 137.9,271.1 141.1,270.2 144.3,276.8 147.5,283.6 150.8,285.0 154.0,289.5 157.2,293.9 160.4,292.4 163.6,298.6 166.8,297.4 170.0,300.6 173.2,303.2 176.4,302.9 179.6,300.1 182.8,293.9 186.1,319.3 189.3,319.3 192.5,319.3 195.7,319.3 198.9,319.3 202.1,319.3 205.3,319.3 208.5,319.3 211.7,319.3 215.0,319.3 218.2,319.3 221.4,319.3 224.6,319.3 227.8,319.3 231.0,319.3 234.2,319.3 237.4,319.3" fill="none" stroke="#4aa832" stroke-width="1.15" stroke-linejoin="round" marker-start="url(#m5)" marker-mid="url(#m5)" marker-end="url(#m5)"/>
<polyline points="38.4,298.3 41.6,192.4 44.8,175.7 48.0,189.5 51.2,202.2 54.5,209.1 57.7,206.1 60.9,201.7 64.1,193.8 67.3,186.3 70.5,180.8 73.7,171.8 76.9,181.5 80.1,179.5 83.3,177.0 86.5,169.0 89.8,167.0 93.0,172.9 96.2,177.1 99.4,182.0 102.6,191.3 105.8,196.5 109.0,200.6 112.2,203.1 115.4,204.9 118.7,201.6 121.9,204.7 125.1,208.4 128.3,215.9 131.5,220.1 134.7,225.0 137.9,230.9 141.1,242.3 144.3,244.0 147.5,255.2 150.8,260.2 154.0,263.6 157.2,273.0 160.4,272.9 163.6,273.4 166.8,281.7 170.0,285.4 173.2,288.3 176.4,287.7 179.6,291.4 182.8,281.4 186.1,319.3 189.3,319.3 192.5,319.3 195.7,319.3 198.9,319.3 202.1,319.3 205.3,319.3 208.5,319.3 211.7,319.3 215.0,319.3 218.2,319.3 221.4,319.3 224.6,319.3 227.8,319.3 231.0,319.3 234.2,319.3 237.4,319.3" fill="none" stroke="#2473b5" stroke-width="1.15" stroke-linejoin="round" marker-start="url(#m6)" marker-mid="url(#m6)" marker-end="url(#m6)"/>
<polyline points="38.4,287.1 41.6,231.8 44.8,258.0 48.0,260.9 51.2,252.6 54.5,236.8 57.7,226.6 60.9,222.8 64.1,216.3 67.3,216.9 70.5,210.2 73.7,211.5 76.9,213.4 80.1,213.2 83.3,202.0 86.5,210.8 89.8,204.2 93.0,214.0 96.2,220.9 99.4,215.5 102.6,222.9 105.8,229.2 109.0,224.6 112.2,224.7 115.4,227.1 118.7,232.3 121.9,232.0 125.1,241.2 128.3,235.0 131.5,237.3 134.7,244.8 137.9,244.5 141.1,252.0 144.3,259.9 147.5,267.4 150.8,276.1 154.0,273.8 157.2,281.1 160.4,284.8 163.6,287.1 166.8,288.3 170.0,292.1 173.2,294.3 176.4,294.4 179.6,294.3 182.8,286.9 186.1,319.3 189.3,319.3 192.5,319.3 195.7,319.3 198.9,319.3 202.1,319.3 205.3,319.3 208.5,319.3 211.7,319.3 215.0,319.3 218.2,319.3 221.4,319.3 224.6,319.3 227.8,319.3 231.0,319.3 234.2,319.3 237.4,319.3" fill="none" stroke="#e0621a" stroke-width="1.15" stroke-linejoin="round"/>
<polyline points="38.4,266.3 41.6,197.0 44.8,188.4 48.0,193.7 51.2,198.1 54.5,199.0 57.7,205.0 60.9,194.5 64.1,195.1 67.3,196.2 70.5,199.6 73.7,195.9 76.9,194.0 80.1,191.7 83.3,189.4 86.5,187.3 89.8,184.4 93.0,181.0 96.2,198.0 99.4,199.3 102.6,204.2 105.8,204.4 109.0,211.0 112.2,204.2 115.4,208.2 118.7,213.2 121.9,218.0 125.1,219.1 128.3,223.0 131.5,224.6 134.7,231.7 137.9,234.5 141.1,247.6 144.3,243.2 147.5,266.9 150.8,264.5 154.0,269.9 157.2,269.7 160.4,281.3 163.6,276.2 166.8,288.2 170.0,283.7 173.2,289.7 176.4,290.4 179.6,291.2 182.8,281.9 186.1,319.3 189.3,319.3 192.5,319.3 195.7,319.3 198.9,319.3 202.1,319.3 205.3,319.3 208.5,319.3 211.7,319.3 215.0,319.3 218.2,319.3 221.4,319.3 224.6,319.3 227.8,319.3 231.0,319.3 234.2,319.3 237.4,319.3" fill="none" stroke="#8c8c8c" stroke-width="1.15" stroke-linejoin="round"/>
<polyline points="38.4,298.3 41.6,181.3 44.8,190.3 48.0,211.6 51.2,223.0 54.5,229.2 57.7,231.3 60.9,238.7 64.1,236.4 67.3,233.7 70.5,229.9 73.7,239.1 76.9,235.9 80.1,240.0 83.3,239.9 86.5,229.3 89.8,236.5 93.0,233.2 96.2,235.3 99.4,245.0 102.6,249.3 105.8,236.9 109.0,246.6 112.2,253.0 115.4,248.3 118.7,253.6 121.9,258.4 125.1,258.6 128.3,258.3 131.5,260.4 134.7,259.3 137.9,267.8 141.1,272.1 144.3,273.7 147.5,280.1 150.8,282.4 154.0,288.2 157.2,291.3 160.4,296.0 163.6,291.5 166.8,298.3 170.0,297.0 173.2,299.7 176.4,298.5 179.6,298.9 182.8,292.9 186.1,319.3 189.3,319.3 192.5,319.3 195.7,319.3 198.9,319.3 202.1,319.3 205.3,319.3 208.5,319.3 211.7,319.3 215.0,319.3 218.2,319.3 221.4,319.3 224.6,319.3 227.8,319.3 231.0,319.3 234.2,319.3 237.4,319.3" fill="none" stroke="#b07c00" stroke-width="1.15" stroke-linejoin="round" marker-start="url(#m9)" marker-mid="url(#m9)" marker-end="url(#m9)"/>
<polyline points="38.4,292.4 41.6,218.4 44.8,212.3 48.0,203.2 51.2,211.1 54.5,207.9 57.7,209.7 60.9,206.2 64.1,206.6 67.3,216.8 70.5,202.8 73.7,208.4 76.9,200.6 80.1,206.0 83.3,191.9 86.5,200.2 89.8,201.7 93.0,197.5 96.2,200.7 99.4,196.8 102.6,206.5 105.8,201.6 109.0,208.1 112.2,216.3 115.4,215.2 118.7,221.9 121.9,226.7 125.1,231.8 128.3,235.5 131.5,232.6 134.7,237.6 137.9,242.8 141.1,250.4 144.3,252.5 147.5,267.4 150.8,272.0 154.0,272.4 157.2,272.5 160.4,282.6 163.6,290.7 166.8,289.6 170.0,290.6 173.2,295.4 176.4,295.7 179.6,295.5 182.8,284.8 186.1,319.3 189.3,319.3 192.5,319.3 195.7,319.3 198.9,319.3 202.1,319.3 205.3,319.3 208.5,319.3 211.7,319.3 215.0,319.3 218.2,319.3 221.4,319.3 224.6,319.3 227.8,319.3 231.0,319.3 234.2,319.3 237.4,319.3" fill="none" stroke="#1f4a94" stroke-width="1.15" stroke-linejoin="round" marker-start="url(#m10)" marker-mid="url(#m10)" marker-end="url(#m10)"/>
<polyline points="38.4,275.3 41.6,238.1 44.8,257.4 48.0,246.8 51.2,229.4 54.5,217.8 57.7,218.2 60.9,220.8 64.1,218.1 67.3,227.1 70.5,218.8 73.7,218.9 76.9,213.2 80.1,215.1 83.3,217.7 86.5,220.0 89.8,213.7 93.0,225.7 96.2,224.9 99.4,235.6 102.6,231.5 105.8,228.4 109.0,226.3 112.2,234.0 115.4,237.7 118.7,235.1 121.9,239.2 125.1,244.9 128.3,243.9 131.5,255.9 134.7,246.4 137.9,250.7 141.1,259.9 144.3,268.8 147.5,272.0 150.8,276.2 154.0,279.7 157.2,285.5 160.4,292.0 163.6,289.0 166.8,292.4 170.0,292.9 173.2,293.7 176.4,297.2 179.6,295.8 182.8,288.9 186.1,319.3 189.3,319.3 192.5,319.3 195.7,319.3 198.9,319.3 202.1,319.3 205.3,319.3 208.5,319.3 211.7,319.3 215.0,319.3 218.2,319.3 221.4,319.3 224.6,319.3 227.8,319.3 231.0,319.3 234.2,319.3 237.4,319.3" fill="none" stroke="#2f6b2a" stroke-width="1.15" stroke-linejoin="round" marker-start="url(#m11)" marker-mid="url(#m11)" marker-end="url(#m11)"/>
<polyline points="38.4,299.7 41.6,186.7 44.8,176.7 48.0,195.9 51.2,204.5 54.5,208.7 57.7,208.5 60.9,210.8 64.1,210.4 67.3,203.7 70.5,207.7 73.7,198.5 76.9,199.6 80.1,208.5 83.3,202.9 86.5,206.3 89.8,202.9 93.0,211.5 96.2,211.6 99.4,213.0 102.6,229.2 105.8,228.0 109.0,222.3 112.2,226.1 115.4,223.9 118.7,229.4 121.9,240.2 125.1,235.6 128.3,241.3 131.5,241.0 134.7,245.3 137.9,245.1 141.1,258.5 144.3,261.9 147.5,271.4 150.8,263.7 154.0,277.5 157.2,281.3 160.4,286.5 163.6,288.6 166.8,290.0 170.0,290.6 173.2,293.0 176.4,293.3 179.6,295.8 182.8,285.7 186.1,319.3 189.3,319.3 192.5,319.3 195.7,319.3 198.9,319.3 202.1,319.3 205.3,319.3 208.5,319.3 211.7,319.3 215.0,319.3 218.2,319.3 221.4,319.3 224.6,319.3 227.8,319.3 231.0,319.3 234.2,319.3 237.4,319.3" fill="none" stroke="#7db8ea" stroke-width="1.15" stroke-linejoin="round" marker-start="url(#m12)" marker-mid="url(#m12)" marker-end="url(#m12)"/>
<polyline points="38.4,309.6 41.6,176.7 44.8,189.3 48.0,204.7 51.2,218.3 54.5,227.7 57.7,229.4 60.9,229.5 64.1,225.9 67.3,230.6 70.5,234.2 73.7,226.5 76.9,229.6 80.1,231.5 83.3,226.3 86.5,233.3 89.8,229.8 93.0,230.2 96.2,233.8 99.4,236.4 102.6,243.0 105.8,243.5 109.0,247.2 112.2,246.6 115.4,244.1 118.7,249.1 121.9,253.9 125.1,254.2 128.3,253.4 131.5,251.5 134.7,256.8 137.9,254.1 141.1,263.1 144.3,268.0 147.5,278.7 150.8,278.2 154.0,284.9 157.2,284.7 160.4,286.6 163.6,290.9 166.8,294.2 170.0,298.5 173.2,299.2 176.4,302.1 179.6,300.2 182.8,291.8 186.1,319.3 189.3,319.3 192.5,319.3 195.7,319.3 198.9,319.3 202.1,319.3 205.3,319.3 208.5,319.3 211.7,319.3 215.0,319.3 218.2,319.3 221.4,319.3 224.6,319.3 227.8,319.3 231.0,319.3 234.2,319.3 237.4,319.3" fill="none" stroke="#ff9a5c" stroke-width="1.15" stroke-linejoin="round" marker-start="url(#m13)" marker-mid="url(#m13)" marker-end="url(#m13)"/>
<polyline points="38.4,290.2 41.6,202.5 44.8,194.8 48.0,194.5 51.2,196.7 54.5,197.0 57.7,198.7 60.9,197.8 64.1,195.3 67.3,200.8 70.5,194.4 73.7,194.6 76.9,204.1 80.1,199.8 83.3,203.1 86.5,201.3 89.8,195.7 93.0,195.7 96.2,184.0 99.4,182.1 102.6,189.7 105.8,195.0 109.0,198.5 112.2,202.8 115.4,203.9 118.7,213.7 121.9,212.0 125.1,218.3 128.3,215.7 131.5,215.7 134.7,218.4 137.9,233.6 141.1,246.5 144.3,254.7 147.5,259.2 150.8,269.8 154.0,276.6 157.2,277.4 160.4,281.5 163.6,279.7 166.8,279.8 170.0,286.7 173.2,288.1 176.4,293.5 179.6,291.7 182.8,281.6 186.1,319.3 189.3,319.3 192.5,319.3 195.7,319.3 198.9,319.3 202.1,319.3 205.3,319.3 208.5,319.3 211.7,319.3 215.0,319.3 218.2,319.3 221.4,319.3 224.6,319.3 227.8,319.3 231.0,319.3 234.2,319.3 237.4,319.3" fill="none" stroke="#b9b9b9" stroke-width="1.15" stroke-linejoin="round" marker-start="url(#m14)" marker-mid="url(#m14)" marker-end="url(#m14)"/>
<polyline points="38.4,300.0 41.6,171.2 44.8,186.6 48.0,202.3 51.2,223.9 54.5,229.9 57.7,232.4 60.9,233.4 64.1,233.8 67.3,229.9 70.5,239.6 73.7,238.9 76.9,233.2 80.1,234.5 83.3,234.7 86.5,235.1 89.8,233.6 93.0,237.5 96.2,243.3 99.4,238.1 102.6,244.7 105.8,243.3 109.0,247.3 112.2,257.4 115.4,250.6 118.7,254.7 121.9,253.7 125.1,253.9 128.3,261.0 131.5,269.1 134.7,263.0 137.9,268.8 141.1,274.6 144.3,274.9 147.5,283.8 150.8,282.9 154.0,283.3 157.2,294.8 160.4,298.3 163.6,294.1 166.8,298.6 170.0,298.9 173.2,301.8 176.4,300.9 179.6,303.2 182.8,294.0 186.1,319.3 189.3,319.3 192.5,319.3 195.7,319.3 198.9,319.3 202.1,319.3 205.3,319.3 208.5,319.3 211.7,319.3 215.0,319.3 218.2,319.3 221.4,319.3 224.6,319.3 227.8,319.3 231.0,319.3 234.2,319.3 237.4,319.3" fill="none" stroke="#ffd23a" stroke-width="1.15" stroke-linejoin="round" marker-start="url(#m15)" marker-mid="url(#m15)" marker-end="url(#m15)"/>
<polyline points="38.4,302.2 41.6,205.9 44.8,198.2 48.0,212.3 51.2,213.5 54.5,218.7 57.7,220.8 60.9,221.1 64.1,218.9 67.3,221.1 70.5,225.8 73.7,220.8 76.9,213.5 80.1,225.8 83.3,219.6 86.5,224.1 89.8,227.0 93.0,223.9 96.2,219.1 99.4,220.2 102.6,231.6 105.8,233.5 109.0,237.7 112.2,244.7 115.4,237.9 118.7,235.3 121.9,237.6 125.1,246.3 128.3,242.2 131.5,243.8 134.7,252.1 137.9,256.5 141.1,264.5 144.3,266.9 147.5,268.9 150.8,280.5 154.0,284.2 157.2,280.9 160.4,285.4 163.6,292.1 166.8,292.6 170.0,294.2 173.2,296.6 176.4,296.5 179.6,296.6 182.8,288.3 186.1,319.3 189.3,319.3 192.5,319.3 195.7,319.3 198.9,319.3 202.1,319.3 205.3,319.3 208.5,319.3 211.7,319.3 215.0,319.3 218.2,319.3 221.4,319.3 224.6,319.3 227.8,319.3 231.0,319.3 234.2,319.3 237.4,319.3" fill="none" stroke="#4f86d6" stroke-width="1.15" stroke-linejoin="round"/>
<polyline points="38.4,308.6 41.6,180.3 44.8,199.7 48.0,214.7 51.2,234.5 54.5,239.0 57.7,237.9 60.9,244.8 64.1,244.8 67.3,240.3 70.5,243.3 73.7,247.8 76.9,244.7 80.1,244.3 83.3,244.7 86.5,245.8 89.8,243.5 93.0,247.2 96.2,249.9 99.4,249.0 102.6,250.4 105.8,252.6 109.0,256.1 112.2,258.3 115.4,259.5 118.7,265.8 121.9,257.3 125.1,261.3 128.3,270.2 131.5,260.6 134.7,262.9 137.9,269.2 141.1,275.2 144.3,279.7 147.5,284.9 150.8,287.3 154.0,290.6 157.2,296.3 160.4,293.1 163.6,297.5 166.8,299.6 170.0,299.7 173.2,303.1 176.4,304.4 179.6,303.4 182.8,293.7 186.1,319.3 189.3,319.3 192.5,319.3 195.7,319.3 198.9,319.3 202.1,319.3 205.3,319.3 208.5,319.3 211.7,319.3 215.0,319.3 218.2,319.3 221.4,319.3 224.6,319.3 227.8,319.3 231.0,319.3 234.2,319.3 237.4,319.3" fill="none" stroke="#86cc66" stroke-width="1.15" stroke-linejoin="round"/>
<polyline points="38.4,310.7 41.6,284.6 44.8,278.4 48.0,281.1 51.2,274.9 54.5,272.2 57.7,264.7 60.9,263.4 64.1,263.8 67.3,266.0 70.5,269.5 73.7,262.6 76.9,264.5 80.1,263.3 83.3,264.9 86.5,259.1 89.8,261.4 93.0,262.3 96.2,265.0 99.4,271.8 102.6,269.4 105.8,274.5 109.0,275.8 112.2,276.1 115.4,276.1 118.7,281.8 121.9,281.2 125.1,277.8 128.3,280.9 131.5,282.3 134.7,286.4 137.9,282.8 141.1,283.5 144.3,292.0 147.5,293.7 150.8,300.7 154.0,302.9 157.2,302.8 160.4,304.3 163.6,308.6 166.8,310.9 170.0,309.2 173.2,309.7 176.4,311.2 179.6,310.9 182.8,306.4 186.1,319.3 189.3,319.3 192.5,319.3 195.7,319.3 198.9,319.3 202.1,319.3 205.3,319.3 208.5,319.3 211.7,319.3 215.0,319.3 218.2,319.3 221.4,319.3 224.6,319.3 227.8,319.3 231.0,319.3 234.2,319.3 237.4,319.3" fill="none" stroke="#0f7fdc" stroke-width="1.15" stroke-linejoin="round" marker-start="url(#m18)" marker-mid="url(#m18)" marker-end="url(#m18)"/>
<polyline points="38.4,294.3 41.6,189.9 44.8,166.0 48.0,170.8 51.2,157.6 54.5,191.5 57.7,202.3 60.9,211.4 64.1,209.6 67.3,212.5 70.5,218.4 73.7,214.7 76.9,212.1 80.1,218.7 83.3,216.8 86.5,217.3 89.8,216.9 93.0,221.4 96.2,224.1 99.4,222.7 102.6,226.4 105.8,226.7 109.0,232.2 112.2,228.4 115.4,236.2 118.7,233.4 121.9,238.1 125.1,237.6 128.3,240.6 131.5,240.7 134.7,231.8 137.9,257.5 141.1,257.8 144.3,263.4 147.5,270.4 150.8,271.4 154.0,282.3 157.2,282.1 160.4,287.5 163.6,286.6 166.8,290.6 170.0,293.1 173.2,296.2 176.4,299.6 179.6,299.7 182.8,319.3 186.1,319.3 189.3,319.3 192.5,319.3 195.7,319.3 198.9,319.3 202.1,319.3 205.3,319.3 208.5,319.3 211.7,319.3 215.0,319.3 218.2,319.3 221.4,319.3 224.6,319.3 227.8,319.3 231.0,319.3 234.2,319.3 237.4,319.3" fill="none" stroke="#ff6a10" stroke-width="1.15" stroke-linejoin="round" marker-start="url(#m19)" marker-mid="url(#m19)" marker-end="url(#m19)"/>
<path d="M338.6 129V319M336.5 153.3H534M336.5 194.8H534M336.5 236.2H534M336.5 277.6H534M336.5 319H534" stroke="#e0e0e0" stroke-width="0.8" fill="none"/>
<polyline points="340.1,294.2 343.2,236.2 346.3,269.3 349.4,286.3 352.5,298.4 355.6,305.7 358.6,310.2 361.7,313.0 364.8,314.8 367.9,315.8 371.0,316.5 374.1,317.0 377.2,317.3 380.3,317.5 383.4,317.7 386.5,317.8 389.5,317.8 392.6,317.9 395.7,318.0 398.8,318.0 401.9,318.1 405.0,318.1 408.1,318.1 411.2,318.2 414.3,318.2 417.4,318.2 420.4,318.2 423.5,318.2 426.6,318.3 429.7,318.3 432.8,318.3 435.9,318.3 439.0,318.3 442.1,318.3 445.2,318.2 448.2,318.0 451.3,317.8 454.4,317.6 457.5,317.3 460.6,317.0 463.7,316.6 466.8,316.3 469.9,315.7 473.0,315.6 476.1,315.1 479.1,316.2 482.2,319.0 485.3,319.0 488.4,319.0 491.5,319.0 494.6,319.0 497.7,319.0 500.8,319.0 503.9,319.0 507.0,319.0 510.1,319.0 513.1,319.0 516.2,319.0 519.3,319.0 522.4,319.0 525.5,319.0 528.6,319.0 531.7,319.0" fill="none" stroke="#1f8fe5" stroke-width="1.15" stroke-linejoin="round" marker-start="url(#m0)" marker-mid="url(#m0)" marker-end="url(#m0)"/>
<polyline points="340.1,281.7 343.2,215.5 346.3,236.2 349.4,271.3 352.5,292.2 355.6,303.5 358.6,309.5 361.7,312.8 364.8,314.6 367.9,315.7 371.0,316.3 374.1,316.7 377.2,316.9 380.3,317.1 383.4,317.2 386.5,317.3 389.5,317.4 392.6,317.5 395.7,317.6 398.8,317.6 401.9,317.7 405.0,317.7 408.1,317.8 411.2,317.8 414.3,317.8 417.4,317.9 420.4,317.9 423.5,317.9 426.6,318.0 429.7,318.0 432.8,318.0 435.9,318.0 439.0,318.0 442.1,317.9 445.2,317.7 448.2,317.2 451.3,316.7 454.4,316.1 457.5,315.2 460.6,314.5 463.7,313.5 466.8,312.2 469.9,311.7 473.0,309.7 476.1,309.1 479.1,311.2 482.2,319.0 485.3,319.0 488.4,319.0 491.5,319.0 494.6,319.0 497.7,319.0 500.8,319.0 503.9,319.0 507.0,319.0 510.1,319.0 513.1,319.0 516.2,319.0 519.3,319.0 522.4,319.0 525.5,319.0 528.6,319.0 531.7,319.0" fill="none" stroke="#ff6a13" stroke-width="1.15" stroke-linejoin="round" marker-start="url(#m1)" marker-mid="url(#m1)" marker-end="url(#m1)"/>
<polyline points="340.1,265.2 343.2,189.8 346.3,228.6 349.4,263.7 352.5,286.5 355.6,299.2 358.6,306.4 361.7,310.5 364.8,312.8 367.9,314.2 371.0,315.1 374.1,315.6 377.2,316.0 380.3,316.3 383.4,316.5 386.5,316.6 389.5,316.8 392.6,316.9 395.7,317.0 398.8,317.1 401.9,317.1 405.0,317.2 408.1,317.3 411.2,317.3 414.3,317.4 417.4,317.4 420.4,317.4 423.5,317.5 426.6,317.5 429.7,317.5 432.8,317.6 435.9,317.6 439.0,317.6 442.1,317.5 445.2,317.4 448.2,317.1 451.3,316.8 454.4,316.3 457.5,315.9 460.6,315.5 463.7,314.9 466.8,314.0 469.9,313.8 473.0,312.1 476.1,312.3 479.1,313.5 482.2,319.0 485.3,319.0 488.4,319.0 491.5,319.0 494.6,319.0 497.7,319.0 500.8,319.0 503.9,319.0 507.0,319.0 510.1,319.0 513.1,319.0 516.2,319.0 519.3,319.0 522.4,319.0 525.5,319.0 528.6,319.0 531.7,319.0" fill="none" stroke="#a5a5a5" stroke-width="1.15" stroke-linejoin="round" marker-start="url(#m2)" marker-mid="url(#m2)" marker-end="url(#m2)"/>
<polyline points="340.1,298.3 343.2,211.4 346.3,238.3 349.4,265.9 352.5,285.2 355.6,297.2 358.6,304.7 361.7,309.4 364.8,312.3 367.9,314.2 371.0,315.4 374.1,316.2 377.2,316.7 380.3,317.0 383.4,317.3 386.5,317.4 389.5,317.6 392.6,317.7 395.7,317.7 398.8,317.8 401.9,317.9 405.0,317.9 408.1,317.9 411.2,318.0 414.3,318.0 417.4,318.0 420.4,318.1 423.5,318.1 426.6,318.1 429.7,318.1 432.8,318.1 435.9,318.1 439.0,318.2 442.1,318.1 445.2,317.8 448.2,317.4 451.3,316.9 454.4,316.3 457.5,315.7 460.6,314.5 463.7,313.9 466.8,313.4 469.9,312.0 473.0,312.3 476.1,310.3 479.1,314.5 482.2,319.0 485.3,319.0 488.4,319.0 491.5,319.0 494.6,319.0 497.7,319.0 500.8,319.0 503.9,319.0 507.0,319.0 510.1,319.0 513.1,319.0 516.2,319.0 519.3,319.0 522.4,319.0 525.5,319.0 528.6,319.0 531.7,319.0" fill="none" stroke="#ffc000" stroke-width="1.15" stroke-linejoin="round" marker-start="url(#m3)" marker-mid="url(#m3)" marker-end="url(#m3)"/>
<polyline points="340.1,236.2 343.2,160.9 346.3,209.9 349.4,250.9 352.5,277.5 355.6,293.4 358.6,302.9 361.7,308.6 364.8,312.0 367.9,314.1 371.0,315.4 374.1,316.2 377.2,316.7 380.3,317.1 383.4,317.3 386.5,317.5 389.5,317.6 392.6,317.7 395.7,317.8 398.8,317.8 401.9,317.9 405.0,317.9 408.1,318.0 411.2,318.0 414.3,318.0 417.4,318.0 420.4,318.1 423.5,318.1 426.6,318.1 429.7,318.1 432.8,318.1 435.9,318.1 439.0,318.2 442.1,318.1 445.2,318.0 448.2,317.8 451.3,317.6 454.4,317.2 457.5,316.8 460.6,316.5 463.7,316.4 466.8,315.6 469.9,315.1 473.0,314.9 476.1,314.5 479.1,316.7 482.2,319.0 485.3,319.0 488.4,319.0 491.5,319.0 494.6,319.0 497.7,319.0 500.8,319.0 503.9,319.0 507.0,319.0 510.1,319.0 513.1,319.0 516.2,319.0 519.3,319.0 522.4,319.0 525.5,319.0 528.6,319.0 531.7,319.0" fill="none" stroke="#3f7fe0" stroke-width="1.15" stroke-linejoin="round" marker-start="url(#m4)" marker-mid="url(#m4)" marker-end="url(#m4)"/>
<polyline points="340.1,285.9 343.2,223.8 346.3,242.8 349.4,277.8 352.5,297.1 355.6,306.9 358.6,311.9 361.7,314.5 364.8,315.9 367.9,316.7 371.0,317.1 374.1,317.4 377.2,317.5 380.3,317.7 383.4,317.7 386.5,317.8 389.5,317.9 392.6,317.9 395.7,318.0 398.8,318.0 401.9,318.1 405.0,318.1 408.1,318.1 411.2,318.2 414.3,318.2 417.4,318.2 420.4,318.2 423.5,318.2 426.6,318.3 429.7,318.3 432.8,318.3 435.9,318.3 439.0,318.3 442.1,318.2 445.2,318.0 448.2,317.7 451.3,317.3 454.4,316.8 457.5,316.4 460.6,316.0 463.7,315.0 466.8,314.1 469.9,312.7 473.0,313.4 476.1,312.0 479.1,314.4 482.2,319.0 485.3,319.0 488.4,319.0 491.5,319.0 494.6,319.0 497.7,319.0 500.8,319.0 503.9,319.0 507.0,319.0 510.1,319.0 513.1,319.0 516.2,319.0 519.3,319.0 522.4,319.0 525.5,319.0 528.6,319.0 531.7,319.0" fill="none" stroke="#4aa832" stroke-width="1.15" stroke-linejoin="round" marker-start="url(#m5)" marker-mid="url(#m5)" marker-end="url(#m5)"/>
<polyline points="340.1,256.9 343.2,194.8 346.3,229.6 349.4,269.3 352.5,292.0 355.6,303.7 358.6,309.8 361.7,313.1 364.8,314.8 367.9,315.8 371.0,316.4 374.1,316.7 377.2,317.0 380.3,317.1 383.4,317.2 386.5,317.4 389.5,317.4 392.6,317.5 395.7,317.6 398.8,317.6 401.9,317.7 405.0,317.7 408.1,317.8 411.2,317.8 414.3,317.8 417.4,317.9 420.4,317.9 423.5,317.9 426.6,318.0 429.7,318.0 432.8,318.0 435.9,318.0 439.0,318.0 442.1,318.0 445.2,317.8 448.2,317.6 451.3,317.3 454.4,316.8 457.5,316.5 460.6,316.3 463.7,315.3 466.8,315.2 469.9,314.4 473.0,313.9 476.1,313.3 479.1,316.7 482.2,319.0 485.3,319.0 488.4,319.0 491.5,319.0 494.6,319.0 497.7,319.0 500.8,319.0 503.9,319.0 507.0,319.0 510.1,319.0 513.1,319.0 516.2,319.0 519.3,319.0 522.4,319.0 525.5,319.0 528.6,319.0 531.7,319.0" fill="none" stroke="#2473b5" stroke-width="1.15" stroke-linejoin="round" marker-start="url(#m6)" marker-mid="url(#m6)" marker-end="url(#m6)"/>
<polyline points="340.1,302.4 343.2,244.5 346.3,255.7 349.4,277.5 352.5,293.3 355.6,302.6 358.6,308.1 361.7,311.5 364.8,313.5 367.9,314.8 371.0,315.6 374.1,316.1 377.2,316.5 380.3,316.7 383.4,316.9 386.5,317.1 389.5,317.2 392.6,317.3 395.7,317.4 398.8,317.4 401.9,317.5 405.0,317.6 408.1,317.6 411.2,317.6 414.3,317.7 417.4,317.7 420.4,317.7 423.5,317.8 426.6,317.8 429.7,317.8 432.8,317.8 435.9,317.9 439.0,317.9 442.1,317.6 445.2,317.1 448.2,316.2 451.3,315.5 454.4,313.6 457.5,312.6 460.6,310.4 463.7,308.1 466.8,306.6 469.9,304.2 473.0,302.7 476.1,300.5 479.1,319.0 482.2,319.0 485.3,319.0 488.4,319.0 491.5,319.0 494.6,319.0 497.7,319.0 500.8,319.0 503.9,319.0 507.0,319.0 510.1,319.0 513.1,319.0 516.2,319.0 519.3,319.0 522.4,319.0 525.5,319.0 528.6,319.0 531.7,319.0" fill="none" stroke="#e0621a" stroke-width="1.15" stroke-linejoin="round"/>
<polyline points="340.1,273.5 343.2,230.0 346.3,247.8 349.4,273.2 352.5,291.5 355.6,301.6 358.6,307.2 361.7,310.4 364.8,312.2 367.9,313.4 371.0,314.1 374.1,314.6 377.2,315.0 380.3,315.3 383.4,315.5 386.5,315.7 389.5,315.9 392.6,316.0 395.7,316.2 398.8,316.3 401.9,316.4 405.0,316.5 408.1,316.6 411.2,316.6 414.3,316.7 417.4,316.8 420.4,316.8 423.5,316.9 426.6,316.9 429.7,316.9 432.8,317.0 435.9,317.0 439.0,317.0 442.1,316.9 445.2,316.3 448.2,315.5 451.3,314.6 454.4,313.3 457.5,312.4 460.6,311.3 463.7,309.3 466.8,307.8 469.9,306.5 473.0,302.8 476.1,301.3 479.1,319.0 482.2,319.0 485.3,319.0 488.4,319.0 491.5,319.0 494.6,319.0 497.7,319.0 500.8,319.0 503.9,319.0 507.0,319.0 510.1,319.0 513.1,319.0 516.2,319.0 519.3,319.0 522.4,319.0 525.5,319.0 528.6,319.0 531.7,319.0" fill="none" stroke="#8c8c8c" stroke-width="1.15" stroke-linejoin="round"/>
<polyline points="340.1,290.0 343.2,219.6 346.3,249.4 349.4,272.9 352.5,289.6 355.6,300.0 358.6,306.4 361.7,310.5 364.8,313.0 367.9,314.6 371.0,315.7 374.1,316.3 377.2,316.8 380.3,317.1 383.4,317.3 386.5,317.5 389.5,317.6 392.6,317.7 395.7,317.8 398.8,317.8 401.9,317.9 405.0,317.9 408.1,317.9 411.2,318.0 414.3,318.0 417.4,318.0 420.4,318.1 423.5,318.1 426.6,318.1 429.7,318.1 432.8,318.1 435.9,318.1 439.0,318.2 442.1,318.1 445.2,317.8 448.2,317.5 451.3,316.9 454.4,316.6 457.5,316.1 460.6,315.0 463.7,313.9 466.8,313.8 469.9,313.1 473.0,312.3 476.1,310.8 479.1,316.4 482.2,319.0 485.3,319.0 488.4,319.0 491.5,319.0 494.6,319.0 497.7,319.0 500.8,319.0 503.9,319.0 507.0,319.0 510.1,319.0 513.1,319.0 516.2,319.0 519.3,319.0 522.4,319.0 525.5,319.0 528.6,319.0 531.7,319.0" fill="none" stroke="#b07c00" stroke-width="1.15" stroke-linejoin="round" marker-start="url(#m9)" marker-mid="url(#m9)" marker-end="url(#m9)"/>
<polyline points="340.1,300.4 343.2,278.4 346.3,286.5 349.4,298.2 352.5,306.3 355.6,311.1 358.6,313.8 361.7,315.4 364.8,316.4 367.9,317.0 371.0,317.4 374.1,317.6 377.2,317.8 380.3,317.9 383.4,318.0 386.5,318.0 389.5,318.1 392.6,318.1 395.7,318.2 398.8,318.2 401.9,318.3 405.0,318.3 408.1,318.3 411.2,318.3 414.3,318.3 417.4,318.4 420.4,318.4 423.5,318.4 426.6,318.4 429.7,318.4 432.8,318.4 435.9,318.4 439.0,318.4 442.1,318.4 445.2,318.3 448.2,318.2 451.3,318.0 454.4,317.9 457.5,317.6 460.6,317.5 463.7,317.1 466.8,316.9 469.9,316.6 473.0,316.3 476.1,316.1 479.1,318.1 482.2,319.0 485.3,319.0 488.4,319.0 491.5,319.0 494.6,319.0 497.7,319.0 500.8,319.0 503.9,319.0 507.0,319.0 510.1,319.0 513.1,319.0 516.2,319.0 519.3,319.0 522.4,319.0 525.5,319.0 528.6,319.0 531.7,319.0" fill="none" stroke="#1f4a94" stroke-width="1.15" stroke-linejoin="round" marker-start="url(#m10)" marker-mid="url(#m10)" marker-end="url(#m10)"/>
<polyline points="340.1,275.9 343.2,256.1 346.3,275.0 349.4,292.5 352.5,303.7 355.6,309.8 358.6,313.2 361.7,315.0 364.8,316.1 367.9,316.7 371.0,317.1 374.1,317.4 377.2,317.5 380.3,317.6 383.4,317.7 386.5,317.8 389.5,317.9 392.6,317.9 395.7,318.0 398.8,318.0 401.9,318.1 405.0,318.1 408.1,318.1 411.2,318.2 414.3,318.2 417.4,318.2 420.4,318.2 423.5,318.2 426.6,318.3 429.7,318.3 432.8,318.3 435.9,318.3 439.0,318.3 442.1,318.3 445.2,318.1 448.2,318.0 451.3,317.8 454.4,317.5 457.5,317.1 460.6,316.9 463.7,316.6 466.8,316.2 469.9,315.6 473.0,314.8 476.1,314.6 479.1,317.2 482.2,319.0 485.3,319.0 488.4,319.0 491.5,319.0 494.6,319.0 497.7,319.0 500.8,319.0 503.9,319.0 507.0,319.0 510.1,319.0 513.1,319.0 516.2,319.0 519.3,319.0 522.4,319.0 525.5,319.0 528.6,319.0 531.7,319.0" fill="none" stroke="#2f6b2a" stroke-width="1.15" stroke-linejoin="round" marker-start="url(#m11)" marker-mid="url(#m11)" marker-end="url(#m11)"/>
<polyline points="340.1,269.3 343.2,234.1 346.3,255.3 349.4,279.5 352.5,295.5 355.6,304.6 358.6,309.7 361.7,312.7 364.8,314.5 367.9,315.5 371.0,316.2 374.1,316.6 377.2,316.9 380.3,317.1 383.4,317.2 386.5,317.3 389.5,317.4 392.6,317.5 395.7,317.6 398.8,317.6 401.9,317.7 405.0,317.7 408.1,317.8 411.2,317.8 414.3,317.8 417.4,317.9 420.4,317.9 423.5,317.9 426.6,318.0 429.7,318.0 432.8,318.0 435.9,318.0 439.0,318.0 442.1,317.9 445.2,317.8 448.2,317.5 451.3,317.3 454.4,316.8 457.5,316.3 460.6,315.9 463.7,315.3 466.8,314.8 469.9,314.3 473.0,313.7 476.1,312.9 479.1,313.9 482.2,319.0 485.3,319.0 488.4,319.0 491.5,319.0 494.6,319.0 497.7,319.0 500.8,319.0 503.9,319.0 507.0,319.0 510.1,319.0 513.1,319.0 516.2,319.0 519.3,319.0 522.4,319.0 525.5,319.0 528.6,319.0 531.7,319.0" fill="none" stroke="#7db8ea" stroke-width="1.15" stroke-linejoin="round" marker-start="url(#m12)" marker-mid="url(#m12)" marker-end="url(#m12)"/>
<polyline points="340.1,294.2 343.2,207.2 346.3,229.6 349.4,264.7 352.5,287.1 355.6,299.8 358.6,306.9 361.7,311.0 364.8,313.4 367.9,314.8 371.0,315.6 374.1,316.2 377.2,316.5 380.3,316.8 383.4,316.9 386.5,317.1 389.5,317.2 392.6,317.3 395.7,317.4 398.8,317.4 401.9,317.5 405.0,317.6 408.1,317.6 411.2,317.6 414.3,317.7 417.4,317.7 420.4,317.7 423.5,317.8 426.6,317.8 429.7,317.8 432.8,317.8 435.9,317.9 439.0,317.9 442.1,317.6 445.2,317.0 448.2,316.2 451.3,315.3 454.4,314.0 457.5,313.1 460.6,310.3 463.7,309.5 466.8,307.6 469.9,303.8 473.0,303.9 476.1,301.2 479.1,313.2 482.2,319.0 485.3,319.0 488.4,319.0 491.5,319.0 494.6,319.0 497.7,319.0 500.8,319.0 503.9,319.0 507.0,319.0 510.1,319.0 513.1,319.0 516.2,319.0 519.3,319.0 522.4,319.0 525.5,319.0 528.6,319.0 531.7,319.0" fill="none" stroke="#ff9a5c" stroke-width="1.15" stroke-linejoin="round" marker-start="url(#m13)" marker-mid="url(#m13)" marker-end="url(#m13)"/>
<polyline points="340.1,261.0 343.2,198.9 346.3,216.9 349.4,256.1 352.5,281.9 355.6,296.3 358.6,304.4 361.7,309.1 364.8,311.7 367.9,313.3 371.0,314.3 374.1,315.0 377.2,315.4 380.3,315.7 383.4,316.0 386.5,316.2 389.5,316.3 392.6,316.4 395.7,316.6 398.8,316.7 401.9,316.8 405.0,316.8 408.1,316.9 411.2,317.0 414.3,317.0 417.4,317.1 420.4,317.1 423.5,317.2 426.6,317.2 429.7,317.2 432.8,317.3 435.9,317.3 439.0,317.3 442.1,317.3 445.2,317.1 448.2,317.0 451.3,316.7 454.4,316.5 457.5,316.1 460.6,315.6 463.7,315.6 466.8,314.9 469.9,314.4 473.0,314.3 476.1,314.1 479.1,315.2 482.2,319.0 485.3,319.0 488.4,319.0 491.5,319.0 494.6,319.0 497.7,319.0 500.8,319.0 503.9,319.0 507.0,319.0 510.1,319.0 513.1,319.0 516.2,319.0 519.3,319.0 522.4,319.0 525.5,319.0 528.6,319.0 531.7,319.0" fill="none" stroke="#b9b9b9" stroke-width="1.15" stroke-linejoin="round" marker-start="url(#m14)" marker-mid="url(#m14)" marker-end="url(#m14)"/>
<polyline points="340.1,296.2 343.2,227.9 346.3,255.2 349.4,282.0 352.5,298.1 355.6,306.8 358.6,311.4 361.7,314.0 364.8,315.4 367.9,316.2 371.0,316.7 374.1,317.0 377.2,317.2 380.3,317.4 383.4,317.5 386.5,317.6 389.5,317.7 392.6,317.7 395.7,317.8 398.8,317.8 401.9,317.9 405.0,317.9 408.1,318.0 411.2,318.0 414.3,318.0 417.4,318.0 420.4,318.1 423.5,318.1 426.6,318.1 429.7,318.1 432.8,318.1 435.9,318.1 439.0,318.2 442.1,318.0 445.2,317.7 448.2,317.3 451.3,316.8 454.4,316.3 457.5,315.5 460.6,314.4 463.7,313.7 466.8,312.5 469.9,311.5 473.0,310.5 476.1,309.7 479.1,314.8 482.2,319.0 485.3,319.0 488.4,319.0 491.5,319.0 494.6,319.0 497.7,319.0 500.8,319.0 503.9,319.0 507.0,319.0 510.1,319.0 513.1,319.0 516.2,319.0 519.3,319.0 522.4,319.0 525.5,319.0 528.6,319.0 531.7,319.0" fill="none" stroke="#ffd23a" stroke-width="1.15" stroke-linejoin="round" marker-start="url(#m15)" marker-mid="url(#m15)" marker-end="url(#m15)"/>
<polyline points="340.1,277.6 343.2,178.2 346.3,213.4 349.4,253.0 352.5,278.8 355.6,294.1 358.6,303.3 361.7,308.7 364.8,312.0 367.9,314.0 371.0,315.3 374.1,316.0 377.2,316.5 380.3,316.9 383.4,317.1 386.5,317.3 389.5,317.4 392.6,317.5 395.7,317.6 398.8,317.6 401.9,317.7 405.0,317.7 408.1,317.8 411.2,317.8 414.3,317.8 417.4,317.9 420.4,317.9 423.5,317.9 426.6,318.0 429.7,318.0 432.8,318.0 435.9,318.0 439.0,318.0 442.1,317.9 445.2,317.6 448.2,317.1 451.3,316.6 454.4,316.0 457.5,315.0 460.6,314.1 463.7,313.3 466.8,312.2 469.9,310.4 473.0,309.6 476.1,308.4 479.1,309.6 482.2,319.0 485.3,319.0 488.4,319.0 491.5,319.0 494.6,319.0 497.7,319.0 500.8,319.0 503.9,319.0 507.0,319.0 510.1,319.0 513.1,319.0 516.2,319.0 519.3,319.0 522.4,319.0 525.5,319.0 528.6,319.0 531.7,319.0" fill="none" stroke="#4f86d6" stroke-width="1.15" stroke-linejoin="round"/>
<polyline points="340.1,283.8 343.2,182.4 346.3,209.7 349.4,260.3 352.5,287.9 355.6,302.0 358.6,309.2 361.7,313.0 364.8,315.0 367.9,316.0 371.0,316.6 374.1,317.0 377.2,317.2 380.3,317.4 383.4,317.5 386.5,317.6 389.5,317.7 392.6,317.7 395.7,317.8 398.8,317.8 401.9,317.9 405.0,317.9 408.1,318.0 411.2,318.0 414.3,318.0 417.4,318.0 420.4,318.1 423.5,318.1 426.6,318.1 429.7,318.1 432.8,318.1 435.9,318.1 439.0,318.2 442.1,317.8 445.2,316.9 448.2,315.4 451.3,313.9 454.4,311.5 457.5,309.9 460.6,306.7 463.7,303.1 466.8,300.5 469.9,297.0 473.0,293.3 476.1,288.7 479.1,290.8 482.2,319.0 485.3,319.0 488.4,319.0 491.5,319.0 494.6,319.0 497.7,319.0 500.8,319.0 503.9,319.0 507.0,319.0 510.1,319.0 513.1,319.0 516.2,319.0 519.3,319.0 522.4,319.0 525.5,319.0 528.6,319.0 531.7,319.0" fill="none" stroke="#86cc66" stroke-width="1.15" stroke-linejoin="round"/>
<polyline points="340.1,308.6 343.2,281.3 346.3,292.6 349.4,301.1 352.5,307.5 355.6,311.5 358.6,313.9 361.7,315.5 364.8,316.5 367.9,317.1 371.0,317.5 374.1,317.8 377.2,318.0 380.3,318.1 383.4,318.2 386.5,318.3 389.5,318.3 392.6,318.3 395.7,318.4 398.8,318.4 401.9,318.4 405.0,318.5 408.1,318.5 411.2,318.5 414.3,318.5 417.4,318.5 420.4,318.5 423.5,318.5 426.6,318.6 429.7,318.6 432.8,318.6 435.9,318.6 439.0,318.6 442.1,318.6 445.2,318.5 448.2,318.4 451.3,318.3 454.4,318.3 457.5,318.1 460.6,318.0 463.7,317.8 466.8,317.5 469.9,317.3 473.0,317.1 476.1,316.9 479.1,318.0 482.2,319.0 485.3,319.0 488.4,319.0 491.5,319.0 494.6,319.0 497.7,319.0 500.8,319.0 503.9,319.0 507.0,319.0 510.1,319.0 513.1,319.0 516.2,319.0 519.3,319.0 522.4,319.0 525.5,319.0 528.6,319.0 531.7,319.0" fill="none" stroke="#0f7fdc" stroke-width="1.15" stroke-linejoin="round" marker-start="url(#m18)" marker-mid="url(#m18)" marker-end="url(#m18)"/>
<polyline points="340.1,269.3 343.2,202.7 346.3,206.2 349.4,252.0 352.5,280.1 355.6,296.0 358.6,305.0 361.7,310.1 364.8,313.0 367.9,314.7 371.0,315.7 374.1,316.3 377.2,316.7 380.3,317.0 383.4,317.2 386.5,317.3 389.5,317.4 392.6,317.5 395.7,317.6 398.8,317.6 401.9,317.7 405.0,317.7 408.1,317.8 411.2,317.8 414.3,317.8 417.4,317.9 420.4,317.9 423.5,317.9 426.6,318.0 429.7,318.0 432.8,318.0 435.9,318.0 439.0,318.0 442.1,318.0 445.2,317.9 448.2,317.8 451.3,317.6 454.4,317.4 457.5,317.1 460.6,316.9 463.7,316.7 466.8,316.3 469.9,316.1 473.0,315.7 476.1,315.4 479.1,319.0 482.2,319.0 485.3,319.0 488.4,319.0 491.5,319.0 494.6,319.0 497.7,319.0 500.8,319.0 503.9,319.0 507.0,319.0 510.1,319.0 513.1,319.0 516.2,319.0 519.3,319.0 522.4,319.0 525.5,319.0 528.6,319.0 531.7,319.0" fill="none" stroke="#ff6a10" stroke-width="1.15" stroke-linejoin="round" marker-start="url(#m19)" marker-mid="url(#m19)" marker-end="url(#m19)"/>
<path d="M254.4 114.8H265.7" stroke="#1f8fe5" stroke-width="1.35"/>
<path d="M258.0 114.8L260.0 112.8L262.0 114.8L260.0 116.8Z" fill="#1f8fe5"/>
<path d="M254.4 125.3H265.7" stroke="#ff6a13" stroke-width="1.35"/>
<rect x="258.2" y="123.5" width="3.6" height="3.6" fill="#ff6a13"/>
<path d="M254.4 135.9H265.7" stroke="#a5a5a5" stroke-width="1.35"/>
<path d="M258.0 137.9L260.0 133.9L262.0 137.9Z" fill="#a5a5a5"/>
<path d="M254.4 146.4H265.7" stroke="#ffc000" stroke-width="1.35"/>
<path d="M258.2 144.6L261.8 148.2M258.2 148.2L261.8 144.6" stroke="#ffc000" stroke-width="0.7" fill="none"/>
<path d="M254.4 156.9H265.7" stroke="#3f7fe0" stroke-width="1.35"/>
<path d="M258.2 155.1L261.8 158.7M258.2 158.7L261.8 155.1M260.0 155.1L260.0 158.7" stroke="#3f7fe0" stroke-width="0.75" fill="none"/>
<path d="M254.4 167.4H265.7" stroke="#4aa832" stroke-width="1.35"/>
<circle cx="260.0" cy="167.4" r="1.6" fill="#4aa832"/>
<path d="M254.4 178.0H265.7" stroke="#2473b5" stroke-width="1.35"/>
<path d="M258.1 178.0L261.9 178.0M260.0 176.1L260.0 179.9" stroke="#2473b5" stroke-width="0.75" fill="none"/>
<path d="M254.4 188.5H265.7" stroke="#e0621a" stroke-width="1.35"/>
<path d="M254.4 199.0H265.7" stroke="#8c8c8c" stroke-width="1.35"/>
<path d="M254.4 209.6H265.7" stroke="#b07c00" stroke-width="1.35"/>
<path d="M258.0 209.6L260.0 207.6L262.0 209.6L260.0 211.6Z" fill="#b07c00"/>
<path d="M254.4 220.1H265.7" stroke="#1f4a94" stroke-width="1.35"/>
<rect x="258.2" y="218.3" width="3.6" height="3.6" fill="#1f4a94"/>
<path d="M254.4 230.6H265.7" stroke="#2f6b2a" stroke-width="1.35"/>
<path d="M258.0 232.6L260.0 228.6L262.0 232.6Z" fill="#2f6b2a"/>
<path d="M254.4 241.2H265.7" stroke="#7db8ea" stroke-width="1.35"/>
<path d="M258.2 239.4L261.8 243.0M258.2 243.0L261.8 239.4" stroke="#7db8ea" stroke-width="0.7" fill="none"/>
<path d="M254.4 251.7H265.7" stroke="#ff9a5c" stroke-width="1.35"/>
<path d="M258.2 249.9L261.8 253.5M258.2 253.5L261.8 249.9M260.0 249.9L260.0 253.5" stroke="#ff9a5c" stroke-width="0.75" fill="none"/>
<path d="M254.4 262.2H265.7" stroke="#b9b9b9" stroke-width="1.35"/>
<circle cx="260.0" cy="262.2" r="1.6" fill="#b9b9b9"/>
<path d="M254.4 272.8H265.7" stroke="#ffd23a" stroke-width="1.35"/>
<path d="M258.1 272.8L261.9 272.8M260.0 270.9L260.0 274.6" stroke="#ffd23a" stroke-width="0.75" fill="none"/>
<path d="M254.4 283.3H265.7" stroke="#4f86d6" stroke-width="1.35"/>
<path d="M254.4 293.8H265.7" stroke="#86cc66" stroke-width="1.35"/>
<path d="M254.4 304.3H265.7" stroke="#0f7fdc" stroke-width="1.35"/>
<path d="M258.0 304.3L260.0 302.3L262.0 304.3L260.0 306.3Z" fill="#0f7fdc"/>
<path d="M254.4 314.9H265.7" stroke="#ff6a10" stroke-width="1.35"/>
<rect x="258.2" y="313.1" width="3.6" height="3.6" fill="#ff6a10"/>
</g>
</svg>
<div class="t cap" style="left:269.5px;top:104px;font-size:11.6px">(<b>a</b>)</div>
<div class="t ttl" style="left:144px;top:116.7px">NO DENOISER</div>
<div class="t ttl" style="left:442px;top:119.6px;font-size:11.8px">ATV DENOISER</div>
<div class="t yl" style="left:30px;top:159.5px;transform:translate(-100%,-50%)">600</div>
<div class="t yl" style="left:30px;top:240.4px;transform:translate(-100%,-50%)">300</div>
<div class="t yl" style="left:30px;top:320.5px;transform:translate(-100%,-50%)">0</div>
<div class="t ylc" style="left:332px;top:155.2px;transform:translate(-100%,-50%)">400</div>
<div class="t ylc" style="left:332px;top:196.3px;transform:translate(-100%,-50%)">300</div>
<div class="t ylc" style="left:332px;top:237.7px;transform:translate(-100%,-50%)">200</div>
<div class="t ylc" style="left:332px;top:279px;transform:translate(-100%,-50%)">100</div>
<div class="t ylc" style="left:332px;top:320.1px;transform:translate(-100%,-50%)">0</div>
<div class="t xl" style="left:37.9px;top:330px">0.00</div>
<div class="t xl" style="left:339.5px;top:328.5px">0.00</div>
<div class="t xl" style="left:70.0px;top:330px">0.16</div>
<div class="t xl" style="left:370.4px;top:328.5px">0.16</div>
<div class="t xl" style="left:102.1px;top:330px">0.31</div>
<div class="t xl" style="left:401.3px;top:328.5px">0.31</div>
<div class="t xl" style="left:134.20000000000002px;top:330px">0.47</div>
<div class="t xl" style="left:432.2px;top:328.5px">0.47</div>
<div class="t xl" style="left:166.3px;top:330px">0.63</div>
<div class="t xl" style="left:463.1px;top:328.5px">0.63</div>
<div class="t xl" style="left:198.4px;top:330px">0.79</div>
<div class="t xl" style="left:494.0px;top:328.5px">0.79</div>
<div class="t xl" style="left:230.50000000000003px;top:330px">0.94</div>
<div class="t xl" style="left:524.9px;top:328.5px">0.94</div>
<div class="t ax" style="left:137.5px;top:340.4px">Spatial frequency (mm<sup>-1</sup>)</div>
<div class="t ax" style="left:435.6px;top:339.5px;font-size:7.9px">Spatial frequency (mm<sup>-1</sup>)</div>
<div class="t ay" style="left:10.5px;top:225.5px">NPS (HU<sup>2</sup>mm<sup>2</sup>)</div>
<div class="t ay" style="left:313.2px;top:226.3px;font-size:9.1px">NPS (HU<sup>2</sup>mm<sup>2</sup>)</div>
<div class="t cap" style="left:145.7px;top:354.8px;font-size:11.5px">(<b>b</b>)</div>
<div class="t cap" style="left:423px;top:353.4px;font-size:11px">(<b>c</b>)</div>
<div class="t lg" style="left:267px;top:116.0px">CASE1</div>
<div class="t lg" style="left:267px;top:126.5px">CASE2</div>
<div class="t lg" style="left:267px;top:137.1px">CASE3</div>
<div class="t lg" style="left:267px;top:147.6px">CASE4</div>
<div class="t lg" style="left:267px;top:158.1px">CASE5</div>
<div class="t lg" style="left:267px;top:168.6px">CASE6</div>
<div class="t lg" style="left:267px;top:179.2px">CASE7</div>
<div class="t lg" style="left:267px;top:189.7px">CASE8</div>
<div class="t lg" style="left:267px;top:200.2px">CASE9</div>
<div class="t lg" style="left:267px;top:210.8px">CASE10</div>
<div class="t lg" style="left:267px;top:221.3px">CASE11</div>
<div class="t lg" style="left:267px;top:231.8px">CASE12</div>
<div class="t lg" style="left:267px;top:242.4px">CASE13</div>
<div class="t lg" style="left:267px;top:252.9px">CASE14</div>
<div class="t lg" style="left:267px;top:263.4px">CASE15</div>
<div class="t lg" style="left:267px;top:273.9px">CASE16</div>
<div class="t lg" style="left:267px;top:284.5px">CASE17</div>
<div class="t lg" style="left:267px;top:295.0px">CASE18</div>
<div class="t lg" style="left:267px;top:305.5px">CASE19</div>
<div class="t lg" style="left:267px;top:316.1px">CASE20</div>
</div></body></html>
